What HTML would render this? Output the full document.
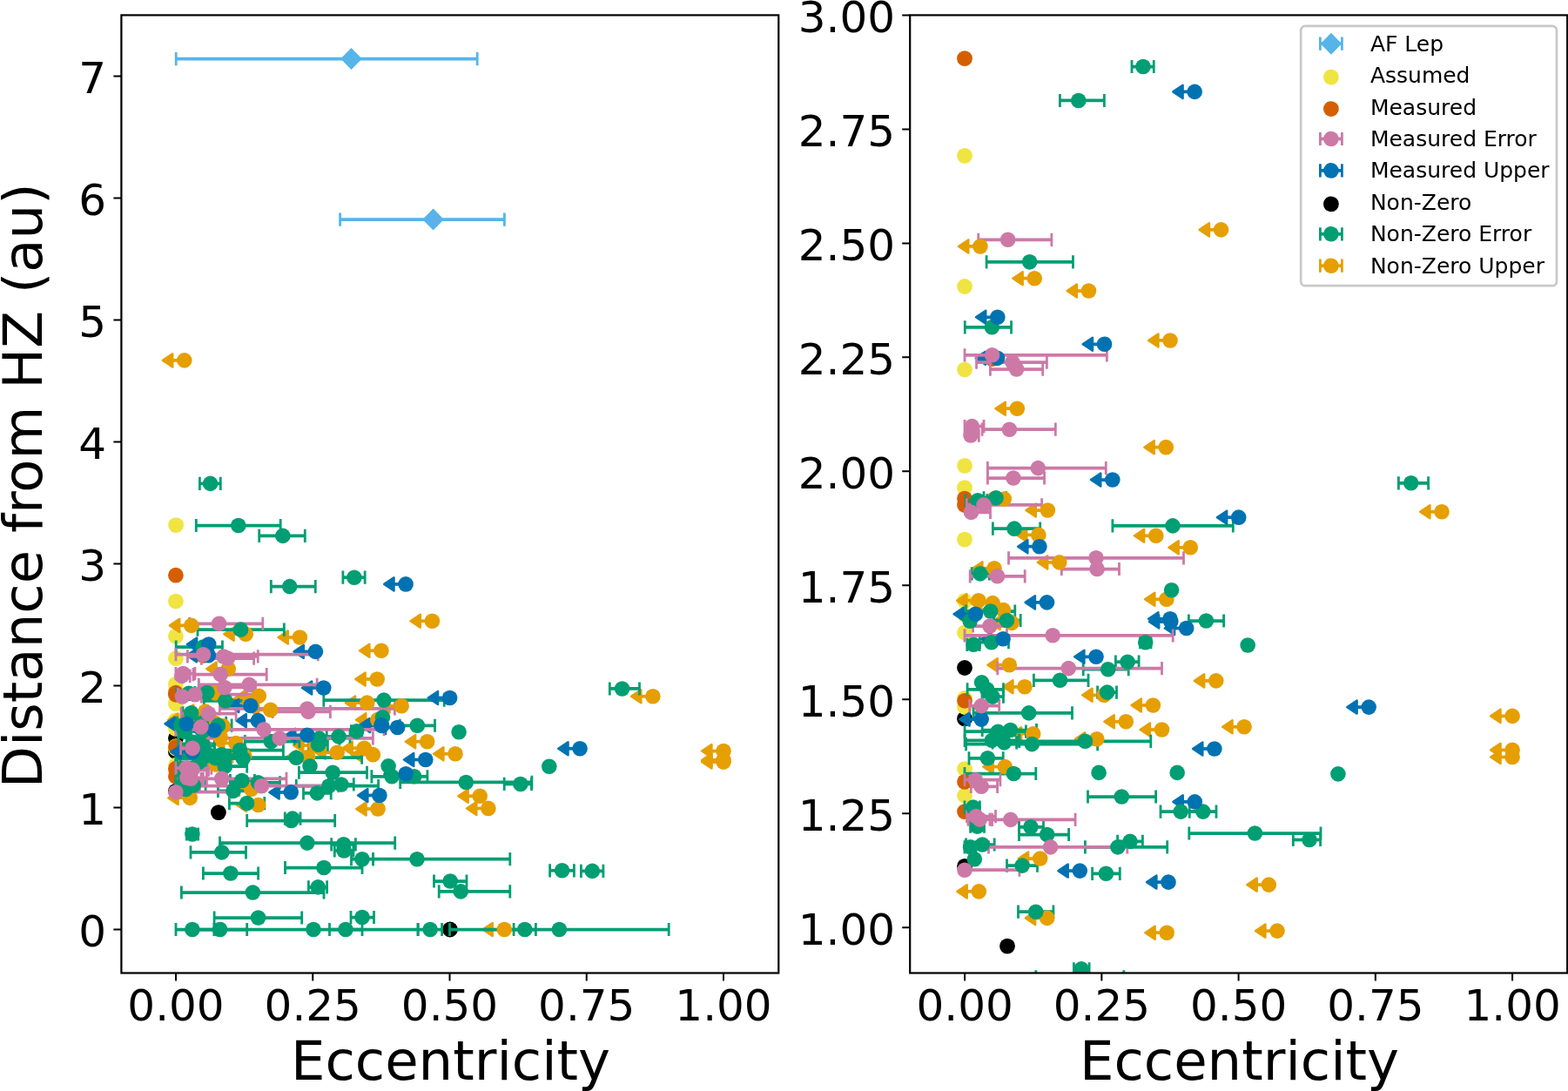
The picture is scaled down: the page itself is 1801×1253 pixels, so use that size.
<!DOCTYPE html>
<html lang="en"><head><meta charset="utf-8"><title>Distance from HZ vs Eccentricity</title>
<style>html,body{margin:0;padding:0;background:#fff}body{width:1801px;height:1253px;overflow:hidden}svg{display:block;font-family:"DejaVu Sans","Liberation Sans",sans-serif}</style>
</head><body>
<svg width="1801" height="1253" viewBox="0 0 1801 1253">
<rect width="1801" height="1253" fill="#fff"/>
<clipPath id="clip1"><rect x="139.4" y="17.4" width="754.9" height="1100.1"/></clipPath>
<g clip-path="url(#clip1)">
<g><circle cx="201.9" cy="847.69" r="8.9" fill="#000000"/><circle cx="201.9" cy="863.3" r="8.9" fill="#000000"/><circle cx="201.9" cy="908.59" r="8.9" fill="#000000"/><circle cx="250.9" cy="933.09" r="8.9" fill="#000000"/><circle cx="516.9" cy="1067.5" r="8.9" fill="#000000"/></g>
<g><circle cx="201.9" cy="690.54" r="8.9" fill="#F0E442"/><circle cx="201.9" cy="730.66" r="8.9" fill="#F0E442"/><circle cx="201.95" cy="756.19" r="8.9" fill="#F0E442"/><circle cx="201.95" cy="785.66" r="8.9" fill="#F0E442"/><circle cx="201.87" cy="792.4" r="8.9" fill="#F0E442"/><circle cx="201.87" cy="808.31" r="8.9" fill="#F0E442"/><circle cx="201.9" cy="827.15" r="8.9" fill="#F0E442"/><circle cx="201.9" cy="831.39" r="8.9" fill="#F0E442"/><circle cx="201.9" cy="836.87" r="8.9" fill="#F0E442"/><circle cx="201.9" cy="857.05" r="8.9" fill="#F0E442"/><circle cx="201.9" cy="859.72" r="8.9" fill="#F0E442"/><circle cx="201.9" cy="878.72" r="8.9" fill="#F0E442"/><circle cx="201.9" cy="886.92" r="8.9" fill="#F0E442"/><circle cx="202.1" cy="603.1" r="8.9" fill="#F0E442"/></g>
<g><circle cx="201.9" cy="660.69" r="8.9" fill="#D55E00"/><circle cx="233.56" cy="752.87" r="8.9" fill="#D55E00"/><circle cx="201.9" cy="795.75" r="8.9" fill="#D55E00"/><circle cx="201.9" cy="797.73" r="8.9" fill="#D55E00"/><circle cx="201.9" cy="857.79" r="8.9" fill="#D55E00"/><circle cx="201.9" cy="882.67" r="8.9" fill="#D55E00"/><circle cx="201.9" cy="891.81" r="8.9" fill="#D55E00"/></g>
<g><path d="M206.2 718.35H219.8" stroke="#E69F00" stroke-width="3.75" fill="none"/><path d="M194.95 718.35L206.2 710.85L206.2 725.85Z" fill="#E69F00" stroke="#E69F00" stroke-width="2.5" stroke-linejoin="round"/><path d="M268.56 728.19H282.16" stroke="#E69F00" stroke-width="3.75" fill="none"/><path d="M257.31 728.19L268.56 720.69L268.56 735.69Z" fill="#E69F00" stroke="#E69F00" stroke-width="2.5" stroke-linejoin="round"/><path d="M330.78 732.01H344.38" stroke="#E69F00" stroke-width="3.75" fill="none"/><path d="M319.53 732.01L330.78 724.51L330.78 739.51Z" fill="#E69F00" stroke="#E69F00" stroke-width="2.5" stroke-linejoin="round"/><path d="M482.8 713.26H496.4" stroke="#E69F00" stroke-width="3.75" fill="none"/><path d="M471.55 713.26L482.8 705.76L482.8 720.76Z" fill="#E69F00" stroke="#E69F00" stroke-width="2.5" stroke-linejoin="round"/><path d="M424.33 747.22H437.93" stroke="#E69F00" stroke-width="3.75" fill="none"/><path d="M413.08 747.22L424.33 739.72L424.33 754.72Z" fill="#E69F00" stroke="#E69F00" stroke-width="2.5" stroke-linejoin="round"/><path d="M419.57 780H433.17" stroke="#E69F00" stroke-width="3.75" fill="none"/><path d="M408.32 780L419.57 772.5L419.57 787.5Z" fill="#E69F00" stroke="#E69F00" stroke-width="2.5" stroke-linejoin="round"/><path d="M248.62 768.13H262.22" stroke="#E69F00" stroke-width="3.75" fill="none"/><path d="M237.37 768.13L248.62 760.63L248.62 775.63Z" fill="#E69F00" stroke="#E69F00" stroke-width="2.5" stroke-linejoin="round"/><path d="M283.66 799.34H297.26" stroke="#E69F00" stroke-width="3.75" fill="none"/><path d="M272.41 799.34L283.66 791.84L283.66 806.84Z" fill="#E69F00" stroke="#E69F00" stroke-width="2.5" stroke-linejoin="round"/><path d="M273.16 806.92H286.76" stroke="#E69F00" stroke-width="3.75" fill="none"/><path d="M261.91 806.92L273.16 799.42L273.16 814.42Z" fill="#E69F00" stroke="#E69F00" stroke-width="2.5" stroke-linejoin="round"/><path d="M233.6 795.86H247.2" stroke="#E69F00" stroke-width="3.75" fill="none"/><path d="M222.35 795.86L233.6 788.36L233.6 803.36Z" fill="#E69F00" stroke="#E69F00" stroke-width="2.5" stroke-linejoin="round"/><path d="M408.07 807.15H421.67" stroke="#E69F00" stroke-width="3.75" fill="none"/><path d="M396.82 807.15L408.07 799.65L408.07 814.65Z" fill="#E69F00" stroke="#E69F00" stroke-width="2.5" stroke-linejoin="round"/><path d="M447.59 810.77H461.19" stroke="#E69F00" stroke-width="3.75" fill="none"/><path d="M436.34 810.77L447.59 803.27L447.59 818.27Z" fill="#E69F00" stroke="#E69F00" stroke-width="2.5" stroke-linejoin="round"/><path d="M297.1 815.34H310.7" stroke="#E69F00" stroke-width="3.75" fill="none"/><path d="M285.85 815.34L297.1 807.84L297.1 822.84Z" fill="#E69F00" stroke="#E69F00" stroke-width="2.5" stroke-linejoin="round"/><path d="M222.3 817.15H235.9" stroke="#E69F00" stroke-width="3.75" fill="none"/><path d="M211.05 817.15L222.3 809.65L222.3 824.65Z" fill="#E69F00" stroke="#E69F00" stroke-width="2.5" stroke-linejoin="round"/><path d="M204.3 827.04H217.9" stroke="#E69F00" stroke-width="3.75" fill="none"/><path d="M193.05 827.04L204.3 819.54L204.3 834.54Z" fill="#E69F00" stroke="#E69F00" stroke-width="2.5" stroke-linejoin="round"/><path d="M220.5 827.81H234.1" stroke="#E69F00" stroke-width="3.75" fill="none"/><path d="M209.25 827.81L220.5 820.31L220.5 835.31Z" fill="#E69F00" stroke="#E69F00" stroke-width="2.5" stroke-linejoin="round"/><path d="M232.8 829.95H246.4" stroke="#E69F00" stroke-width="3.75" fill="none"/><path d="M221.55 829.95L232.8 822.45L232.8 837.45Z" fill="#E69F00" stroke="#E69F00" stroke-width="2.5" stroke-linejoin="round"/><path d="M242.5 833.91H256.1" stroke="#E69F00" stroke-width="3.75" fill="none"/><path d="M231.25 833.91L242.5 826.41L242.5 841.41Z" fill="#E69F00" stroke="#E69F00" stroke-width="2.5" stroke-linejoin="round"/><path d="M239.6 846.81H253.2" stroke="#E69F00" stroke-width="3.75" fill="none"/><path d="M228.35 846.81L239.6 839.31L239.6 854.31Z" fill="#E69F00" stroke="#E69F00" stroke-width="2.5" stroke-linejoin="round"/><path d="M420.2 826.67H433.8" stroke="#E69F00" stroke-width="3.75" fill="none"/><path d="M408.95 826.67L420.2 819.17L420.2 834.17Z" fill="#E69F00" stroke="#E69F00" stroke-width="2.5" stroke-linejoin="round"/><path d="M257.3 853.52H270.9" stroke="#E69F00" stroke-width="3.75" fill="none"/><path d="M246.05 853.52L257.3 846.02L257.3 861.02Z" fill="#E69F00" stroke="#E69F00" stroke-width="2.5" stroke-linejoin="round"/><path d="M348.4 856.06H362" stroke="#E69F00" stroke-width="3.75" fill="none"/><path d="M337.15 856.06L348.4 848.56L348.4 863.56Z" fill="#E69F00" stroke="#E69F00" stroke-width="2.5" stroke-linejoin="round"/><path d="M404.7 859.18H418.3" stroke="#E69F00" stroke-width="3.75" fill="none"/><path d="M393.45 859.18L404.7 851.68L404.7 866.68Z" fill="#E69F00" stroke="#E69F00" stroke-width="2.5" stroke-linejoin="round"/><path d="M373.6 864.21H387.2" stroke="#E69F00" stroke-width="3.75" fill="none"/><path d="M362.35 864.21L373.6 856.71L373.6 871.71Z" fill="#E69F00" stroke="#E69F00" stroke-width="2.5" stroke-linejoin="round"/><path d="M414.8 866.67H428.4" stroke="#E69F00" stroke-width="3.75" fill="none"/><path d="M403.55 866.67L414.8 859.17L414.8 874.17Z" fill="#E69F00" stroke="#E69F00" stroke-width="2.5" stroke-linejoin="round"/><path d="M477.1 851.68H490.7" stroke="#E69F00" stroke-width="3.75" fill="none"/><path d="M465.85 851.68L477.1 844.18L477.1 859.18Z" fill="#E69F00" stroke="#E69F00" stroke-width="2.5" stroke-linejoin="round"/><path d="M509.4 865.81H523" stroke="#E69F00" stroke-width="3.75" fill="none"/><path d="M498.15 865.81L509.4 858.31L509.4 873.31Z" fill="#E69F00" stroke="#E69F00" stroke-width="2.5" stroke-linejoin="round"/><path d="M267 867.92H280.6" stroke="#E69F00" stroke-width="3.75" fill="none"/><path d="M255.75 867.92L267 860.42L267 875.42Z" fill="#E69F00" stroke="#E69F00" stroke-width="2.5" stroke-linejoin="round"/><path d="M340.1 869.55H353.7" stroke="#E69F00" stroke-width="3.75" fill="none"/><path d="M328.85 869.55L340.1 862.05L340.1 877.05Z" fill="#E69F00" stroke="#E69F00" stroke-width="2.5" stroke-linejoin="round"/><path d="M234.6 878.05H248.2" stroke="#E69F00" stroke-width="3.75" fill="none"/><path d="M223.35 878.05L234.6 870.55L234.6 885.55Z" fill="#E69F00" stroke="#E69F00" stroke-width="2.5" stroke-linejoin="round"/><path d="M275 906.21H288.6" stroke="#E69F00" stroke-width="3.75" fill="none"/><path d="M263.75 906.21L275 898.71L275 913.71Z" fill="#E69F00" stroke="#E69F00" stroke-width="2.5" stroke-linejoin="round"/><path d="M204.6 916.34H218.2" stroke="#E69F00" stroke-width="3.75" fill="none"/><path d="M193.35 916.34L204.6 908.84L204.6 923.84Z" fill="#E69F00" stroke="#E69F00" stroke-width="2.5" stroke-linejoin="round"/><path d="M283 924.49H296.6" stroke="#E69F00" stroke-width="3.75" fill="none"/><path d="M271.75 924.49L283 916.99L283 931.99Z" fill="#E69F00" stroke="#E69F00" stroke-width="2.5" stroke-linejoin="round"/><path d="M420.5 928.98H434.1" stroke="#E69F00" stroke-width="3.75" fill="none"/><path d="M409.25 928.98L420.5 921.48L420.5 936.48Z" fill="#E69F00" stroke="#E69F00" stroke-width="2.5" stroke-linejoin="round"/><path d="M537.6 914.25H551.2" stroke="#E69F00" stroke-width="3.75" fill="none"/><path d="M526.35 914.25L537.6 906.75L537.6 921.75Z" fill="#E69F00" stroke="#E69F00" stroke-width="2.5" stroke-linejoin="round"/><path d="M547.3 928.42H560.9" stroke="#E69F00" stroke-width="3.75" fill="none"/><path d="M536.05 928.42L547.3 920.92L547.3 935.92Z" fill="#E69F00" stroke="#E69F00" stroke-width="2.5" stroke-linejoin="round"/><path d="M736.3 799.81H749.9" stroke="#E69F00" stroke-width="3.75" fill="none"/><path d="M725.05 799.81L736.3 792.31L736.3 807.31Z" fill="#E69F00" stroke="#E69F00" stroke-width="2.5" stroke-linejoin="round"/><path d="M817.4 862.5H831" stroke="#E69F00" stroke-width="3.75" fill="none"/><path d="M806.15 862.5L817.4 855L817.4 870Z" fill="#E69F00" stroke="#E69F00" stroke-width="2.5" stroke-linejoin="round"/><path d="M817.4 872.92H831" stroke="#E69F00" stroke-width="3.75" fill="none"/><path d="M806.15 872.92L817.4 865.42L817.4 880.42Z" fill="#E69F00" stroke="#E69F00" stroke-width="2.5" stroke-linejoin="round"/><path d="M817.4 875.08H831" stroke="#E69F00" stroke-width="3.75" fill="none"/><path d="M806.15 875.08L817.4 867.58L817.4 882.58Z" fill="#E69F00" stroke="#E69F00" stroke-width="2.5" stroke-linejoin="round"/><path d="M198.2 413.9H211.8" stroke="#E69F00" stroke-width="3.75" fill="none"/><path d="M186.95 413.9L198.2 406.4L198.2 421.4Z" fill="#E69F00" stroke="#E69F00" stroke-width="2.5" stroke-linejoin="round"/><path d="M565.7 1067.5H579.3" stroke="#E69F00" stroke-width="3.75" fill="none"/><path d="M554.45 1067.5L565.7 1060L565.7 1075Z" fill="#E69F00" stroke="#E69F00" stroke-width="2.5" stroke-linejoin="round"/></g>
<g><path d="M311.32 673.61H362.28" stroke="#009E73" stroke-width="3.75" fill="none"/><path d="M311.32 666.01V681.21M362.28 666.01V681.21" stroke="#009E73" stroke-width="2.8" fill="none"/><path d="M393.9 663.2H419.16" stroke="#009E73" stroke-width="3.75" fill="none"/><path d="M393.9 655.6V670.8M419.16 655.6V670.8" stroke="#009E73" stroke-width="2.8" fill="none"/><path d="M227.01 723.13H326.34" stroke="#009E73" stroke-width="3.75" fill="none"/><path d="M227.01 715.53V730.73M326.34 715.53V730.73" stroke="#009E73" stroke-width="2.8" fill="none"/><path d="M202.18 743.17H255.45" stroke="#009E73" stroke-width="3.75" fill="none"/><path d="M202.18 735.57V750.77M255.45 735.57V750.77" stroke="#009E73" stroke-width="2.8" fill="none"/><path d="M234.25 804.98H288.6" stroke="#009E73" stroke-width="3.75" fill="none"/><path d="M234.25 797.38V812.58M288.6 797.38V812.58" stroke="#009E73" stroke-width="2.8" fill="none"/><path d="M203 796.34H227.7" stroke="#009E73" stroke-width="3.75" fill="none"/><path d="M203 788.74V803.94M227.7 788.74V803.94" stroke="#009E73" stroke-width="2.8" fill="none"/><path d="M223.9 795.56H249.6" stroke="#009E73" stroke-width="3.75" fill="none"/><path d="M223.9 787.96V803.16M249.6 787.96V803.16" stroke="#009E73" stroke-width="2.8" fill="none"/><path d="M371.8 804.11H510.2" stroke="#009E73" stroke-width="3.75" fill="none"/><path d="M371.8 796.51V811.71M510.2 796.51V811.71" stroke="#009E73" stroke-width="2.8" fill="none"/><path d="M210.1 818.81H230.3" stroke="#009E73" stroke-width="3.75" fill="none"/><path d="M210.1 811.21V826.41M230.3 811.21V826.41" stroke="#009E73" stroke-width="2.8" fill="none"/><path d="M203.4 830.33H259.7" stroke="#009E73" stroke-width="3.75" fill="none"/><path d="M203.4 822.73V837.93M259.7 822.73V837.93" stroke="#009E73" stroke-width="2.8" fill="none"/><path d="M235.4 833.13H266.1" stroke="#009E73" stroke-width="3.75" fill="none"/><path d="M235.4 825.53V840.73M266.1 825.53V840.73" stroke="#009E73" stroke-width="2.8" fill="none"/><path d="M203.9 833.32H213.9" stroke="#009E73" stroke-width="3.75" fill="none"/><path d="M203.9 825.72V840.92M213.9 825.72V840.92" stroke="#009E73" stroke-width="2.8" fill="none"/><path d="M436.4 823.83H442.6" stroke="#009E73" stroke-width="3.75" fill="none"/><path d="M436.4 816.23V831.43M442.6 816.23V831.43" stroke="#009E73" stroke-width="2.8" fill="none"/><path d="M403.4 839.86H415.9" stroke="#009E73" stroke-width="3.75" fill="none"/><path d="M403.4 832.26V847.46M415.9 832.26V847.46" stroke="#009E73" stroke-width="2.8" fill="none"/><path d="M375.3 845.88H402" stroke="#009E73" stroke-width="3.75" fill="none"/><path d="M375.3 838.28V853.48M402 838.28V853.48" stroke="#009E73" stroke-width="2.8" fill="none"/><path d="M338.1 848.15H390.1" stroke="#009E73" stroke-width="3.75" fill="none"/><path d="M338.1 840.55V855.75M390.1 840.55V855.75" stroke="#009E73" stroke-width="2.8" fill="none"/><path d="M459.3 833.27H499.5" stroke="#009E73" stroke-width="3.75" fill="none"/><path d="M459.3 825.67V840.87M499.5 825.67V840.87" stroke="#009E73" stroke-width="2.8" fill="none"/><path d="M523.9 840.75H529.9" stroke="#009E73" stroke-width="3.75" fill="none"/><path d="M523.9 833.15V848.35M529.9 833.15V848.35" stroke="#009E73" stroke-width="2.8" fill="none"/><path d="M219.2 839.86H252.4" stroke="#009E73" stroke-width="3.75" fill="none"/><path d="M219.2 832.26V847.46M252.4 832.26V847.46" stroke="#009E73" stroke-width="2.8" fill="none"/><path d="M204.7 840.56H219" stroke="#009E73" stroke-width="3.75" fill="none"/><path d="M204.7 832.96V848.16M219 832.96V848.16" stroke="#009E73" stroke-width="2.8" fill="none"/><path d="M218.4 852.21H224.4" stroke="#009E73" stroke-width="3.75" fill="none"/><path d="M218.4 844.61V859.81M224.4 844.61V859.81" stroke="#009E73" stroke-width="2.8" fill="none"/><path d="M205 854.32H246.4" stroke="#009E73" stroke-width="3.75" fill="none"/><path d="M205 846.72V861.92M246.4 846.72V861.92" stroke="#009E73" stroke-width="2.8" fill="none"/><path d="M221.9 856.54H246.4" stroke="#009E73" stroke-width="3.75" fill="none"/><path d="M221.9 848.94V864.14M246.4 848.94V864.14" stroke="#009E73" stroke-width="2.8" fill="none"/><path d="M281.3 851.51H343.9" stroke="#009E73" stroke-width="3.75" fill="none"/><path d="M281.3 843.91V859.11M343.9 843.91V859.11" stroke="#009E73" stroke-width="2.8" fill="none"/><path d="M212 861.56H325.4" stroke="#009E73" stroke-width="3.75" fill="none"/><path d="M212 853.96V869.16M325.4 853.96V869.16" stroke="#009E73" stroke-width="2.8" fill="none"/><path d="M354.5 855.2H376.4" stroke="#009E73" stroke-width="3.75" fill="none"/><path d="M354.5 847.6V862.8M376.4 847.6V862.8" stroke="#009E73" stroke-width="2.8" fill="none"/><path d="M202 867.25H272.3" stroke="#009E73" stroke-width="3.75" fill="none"/><path d="M202 859.65V874.85M272.3 859.65V874.85" stroke="#009E73" stroke-width="2.8" fill="none"/><path d="M222.1 866.8H284.4" stroke="#009E73" stroke-width="3.75" fill="none"/><path d="M222.1 859.2V874.4M284.4 859.2V874.4" stroke="#009E73" stroke-width="2.8" fill="none"/><path d="M202 869.95H264.4" stroke="#009E73" stroke-width="3.75" fill="none"/><path d="M202 862.35V877.55M264.4 862.35V877.55" stroke="#009E73" stroke-width="2.8" fill="none"/><path d="M234 870.65H261.5" stroke="#009E73" stroke-width="3.75" fill="none"/><path d="M234 863.05V878.25M261.5 863.05V878.25" stroke="#009E73" stroke-width="2.8" fill="none"/><path d="M203.5 871.1H354.5" stroke="#009E73" stroke-width="3.75" fill="none"/><path d="M203.5 863.5V878.7M354.5 863.5V878.7" stroke="#009E73" stroke-width="2.8" fill="none"/><path d="M264.7 870.22H415.7" stroke="#009E73" stroke-width="3.75" fill="none"/><path d="M264.7 862.62V877.82M415.7 862.62V877.82" stroke="#009E73" stroke-width="2.8" fill="none"/><path d="M206.9 875.43H246.1" stroke="#009E73" stroke-width="3.75" fill="none"/><path d="M206.9 867.83V883.03M246.1 867.83V883.03" stroke="#009E73" stroke-width="2.8" fill="none"/><path d="M201.9 880.16H283.7" stroke="#009E73" stroke-width="3.75" fill="none"/><path d="M201.9 872.56V887.76M283.7 872.56V887.76" stroke="#009E73" stroke-width="2.8" fill="none"/><path d="M352.9 879.86H358.9" stroke="#009E73" stroke-width="3.75" fill="none"/><path d="M352.9 872.26V887.46M358.9 872.26V887.46" stroke="#009E73" stroke-width="2.8" fill="none"/><path d="M343.4 887.24H421.5" stroke="#009E73" stroke-width="3.75" fill="none"/><path d="M343.4 879.64V894.84M421.5 879.64V894.84" stroke="#009E73" stroke-width="2.8" fill="none"/><path d="M442.9 879.86H448.9" stroke="#009E73" stroke-width="3.75" fill="none"/><path d="M442.9 872.26V887.46M448.9 872.26V887.46" stroke="#009E73" stroke-width="2.8" fill="none"/><path d="M201.9 890.47H219.3" stroke="#009E73" stroke-width="3.75" fill="none"/><path d="M201.9 882.87V898.07M219.3 882.87V898.07" stroke="#009E73" stroke-width="2.8" fill="none"/><path d="M208.5 896.35H224.4" stroke="#009E73" stroke-width="3.75" fill="none"/><path d="M208.5 888.75V903.95M224.4 888.75V903.95" stroke="#009E73" stroke-width="2.8" fill="none"/><path d="M264.4 896.54H292.4" stroke="#009E73" stroke-width="3.75" fill="none"/><path d="M264.4 888.94V904.14M292.4 888.94V904.14" stroke="#009E73" stroke-width="2.8" fill="none"/><path d="M264.4 898.86H321.5" stroke="#009E73" stroke-width="3.75" fill="none"/><path d="M264.4 891.26V906.46M321.5 891.26V906.46" stroke="#009E73" stroke-width="2.8" fill="none"/><path d="M203.4 901.94H236.1" stroke="#009E73" stroke-width="3.75" fill="none"/><path d="M203.4 894.34V909.54M236.1 894.34V909.54" stroke="#009E73" stroke-width="2.8" fill="none"/><path d="M201.9 902.71H214.9" stroke="#009E73" stroke-width="3.75" fill="none"/><path d="M201.9 895.11V910.31M214.9 895.11V910.31" stroke="#009E73" stroke-width="2.8" fill="none"/><path d="M209.9 906.42H216.4" stroke="#009E73" stroke-width="3.75" fill="none"/><path d="M209.9 898.82V914.02M216.4 898.82V914.02" stroke="#009E73" stroke-width="2.8" fill="none"/><path d="M340.3 902.71H434.6" stroke="#009E73" stroke-width="3.75" fill="none"/><path d="M340.3 895.11V910.31M434.6 895.11V910.31" stroke="#009E73" stroke-width="2.8" fill="none"/><path d="M377.5 900.97H406.3" stroke="#009E73" stroke-width="3.75" fill="none"/><path d="M377.5 893.37V908.57M406.3 893.37V908.57" stroke="#009E73" stroke-width="2.8" fill="none"/><path d="M426.9 891.81H473.3" stroke="#009E73" stroke-width="3.75" fill="none"/><path d="M426.9 884.21V899.41M473.3 884.21V899.41" stroke="#009E73" stroke-width="2.8" fill="none"/><path d="M460.2 891.81H490.9" stroke="#009E73" stroke-width="3.75" fill="none"/><path d="M460.2 884.21V899.41M490.9 884.21V899.41" stroke="#009E73" stroke-width="2.8" fill="none"/><path d="M459.7 898.46H610.9" stroke="#009E73" stroke-width="3.75" fill="none"/><path d="M459.7 890.86V906.06M610.9 890.86V906.06" stroke="#009E73" stroke-width="2.8" fill="none"/><path d="M250.4 908.38H285.4" stroke="#009E73" stroke-width="3.75" fill="none"/><path d="M250.4 900.78V915.98M285.4 900.78V915.98" stroke="#009E73" stroke-width="2.8" fill="none"/><path d="M263.4 922.56H303.8" stroke="#009E73" stroke-width="3.75" fill="none"/><path d="M263.4 914.96V930.16M303.8 914.96V930.16" stroke="#009E73" stroke-width="2.8" fill="none"/><path d="M348.5 910.83H380.2" stroke="#009E73" stroke-width="3.75" fill="none"/><path d="M348.5 903.23V918.43M380.2 903.23V918.43" stroke="#009E73" stroke-width="2.8" fill="none"/><path d="M327.3 940.12H345" stroke="#009E73" stroke-width="3.75" fill="none"/><path d="M327.3 932.52V947.72M345 932.52V947.72" stroke="#009E73" stroke-width="2.8" fill="none"/><path d="M700.3 790.99H734.5" stroke="#009E73" stroke-width="3.75" fill="none"/><path d="M700.3 783.39V798.59M734.5 783.39V798.59" stroke="#009E73" stroke-width="2.8" fill="none"/><path d="M627.9 880.27H633.9" stroke="#009E73" stroke-width="3.75" fill="none"/><path d="M627.9 872.67V887.87M633.9 872.67V887.87" stroke="#009E73" stroke-width="2.8" fill="none"/><path d="M579.2 900.47H610.5" stroke="#009E73" stroke-width="3.75" fill="none"/><path d="M579.2 892.87V908.07M610.5 892.87V908.07" stroke="#009E73" stroke-width="2.8" fill="none"/><path d="M229.4 555.4H253.3" stroke="#009E73" stroke-width="3.75" fill="none"/><path d="M229.4 547.8V563M253.3 547.8V563" stroke="#009E73" stroke-width="2.8" fill="none"/><path d="M225.3 603.5H322.2" stroke="#009E73" stroke-width="3.75" fill="none"/><path d="M225.3 595.9V611.1M322.2 595.9V611.1" stroke="#009E73" stroke-width="2.8" fill="none"/><path d="M297.7 615.4H350.3" stroke="#009E73" stroke-width="3.75" fill="none"/><path d="M297.7 607.8V623M350.3 607.8V623" stroke="#009E73" stroke-width="2.8" fill="none"/><path d="M283.7 942.5H384.7" stroke="#009E73" stroke-width="3.75" fill="none"/><path d="M283.7 934.9V950.1M384.7 934.9V950.1" stroke="#009E73" stroke-width="2.8" fill="none"/><path d="M214.4 958H227.6" stroke="#009E73" stroke-width="3.75" fill="none"/><path d="M214.4 950.4V965.6M227.6 950.4V965.6" stroke="#009E73" stroke-width="2.8" fill="none"/><path d="M252.5 968.1H453.7" stroke="#009E73" stroke-width="3.75" fill="none"/><path d="M252.5 960.5V975.7M453.7 960.5V975.7" stroke="#009E73" stroke-width="2.8" fill="none"/><path d="M380.7 969.8H408.4" stroke="#009E73" stroke-width="3.75" fill="none"/><path d="M380.7 962.2V977.4M408.4 962.2V977.4" stroke="#009E73" stroke-width="2.8" fill="none"/><path d="M384.3 977H405.9" stroke="#009E73" stroke-width="3.75" fill="none"/><path d="M384.3 969.4V984.6M405.9 969.4V984.6" stroke="#009E73" stroke-width="2.8" fill="none"/><path d="M219 978.9H282.5" stroke="#009E73" stroke-width="3.75" fill="none"/><path d="M219 971.3V986.5M282.5 971.3V986.5" stroke="#009E73" stroke-width="2.8" fill="none"/><path d="M403.5 986.7H428.6" stroke="#009E73" stroke-width="3.75" fill="none"/><path d="M403.5 979.1V994.3M428.6 979.1V994.3" stroke="#009E73" stroke-width="2.8" fill="none"/><path d="M428.6 986.7H585.8" stroke="#009E73" stroke-width="3.75" fill="none"/><path d="M428.6 979.1V994.3M585.8 979.1V994.3" stroke="#009E73" stroke-width="2.8" fill="none"/><path d="M327.5 996.5H416" stroke="#009E73" stroke-width="3.75" fill="none"/><path d="M327.5 988.9V1004.1M416 988.9V1004.1" stroke="#009E73" stroke-width="2.8" fill="none"/><path d="M233.4 1003H296.6" stroke="#009E73" stroke-width="3.75" fill="none"/><path d="M233.4 995.4V1010.6M296.6 995.4V1010.6" stroke="#009E73" stroke-width="2.8" fill="none"/><path d="M354.4 1018.9H375.6" stroke="#009E73" stroke-width="3.75" fill="none"/><path d="M354.4 1011.3V1026.5M375.6 1011.3V1026.5" stroke="#009E73" stroke-width="2.8" fill="none"/><path d="M208.4 1025H372" stroke="#009E73" stroke-width="3.75" fill="none"/><path d="M208.4 1017.4V1032.6M372 1017.4V1032.6" stroke="#009E73" stroke-width="2.8" fill="none"/><path d="M246.1 1054H346.7" stroke="#009E73" stroke-width="3.75" fill="none"/><path d="M246.1 1046.4V1061.6M346.7 1046.4V1061.6" stroke="#009E73" stroke-width="2.8" fill="none"/><path d="M403 1053.5H429.5" stroke="#009E73" stroke-width="3.75" fill="none"/><path d="M403 1045.9V1061.1M429.5 1045.9V1061.1" stroke="#009E73" stroke-width="2.8" fill="none"/><path d="M202 1067.5H246.1" stroke="#009E73" stroke-width="3.75" fill="none"/><path d="M202 1059.9V1075.1M246.1 1059.9V1075.1" stroke="#009E73" stroke-width="2.8" fill="none"/><path d="M221.5 1067.5H283.7" stroke="#009E73" stroke-width="3.75" fill="none"/><path d="M221.5 1059.9V1075.1M283.7 1059.9V1075.1" stroke="#009E73" stroke-width="2.8" fill="none"/><path d="M246.1 1067.5H480.1" stroke="#009E73" stroke-width="3.75" fill="none"/><path d="M246.1 1059.9V1075.1M480.1 1059.9V1075.1" stroke="#009E73" stroke-width="2.8" fill="none"/><path d="M378.5 1067.5H416" stroke="#009E73" stroke-width="3.75" fill="none"/><path d="M378.5 1059.9V1075.1M416 1059.9V1075.1" stroke="#009E73" stroke-width="2.8" fill="none"/><path d="M480.1 1067.5H507.6" stroke="#009E73" stroke-width="3.75" fill="none"/><path d="M480.1 1059.9V1075.1M507.6 1059.9V1075.1" stroke="#009E73" stroke-width="2.8" fill="none"/><path d="M516.5 1067.5H768.2" stroke="#009E73" stroke-width="3.75" fill="none"/><path d="M516.5 1059.9V1075.1M768.2 1059.9V1075.1" stroke="#009E73" stroke-width="2.8" fill="none"/><path d="M590.1 1067.5H615.4" stroke="#009E73" stroke-width="3.75" fill="none"/><path d="M590.1 1059.9V1075.1M615.4 1059.9V1075.1" stroke="#009E73" stroke-width="2.8" fill="none"/><path d="M631.6 999.8H659.4" stroke="#009E73" stroke-width="3.75" fill="none"/><path d="M631.6 992.2V1007.4M659.4 992.2V1007.4" stroke="#009E73" stroke-width="2.8" fill="none"/><path d="M667.4 1000.4H692.9" stroke="#009E73" stroke-width="3.75" fill="none"/><path d="M667.4 992.8V1008M692.9 992.8V1008" stroke="#009E73" stroke-width="2.8" fill="none"/><path d="M498.5 1012H536" stroke="#009E73" stroke-width="3.75" fill="none"/><path d="M498.5 1004.4V1019.6M536 1004.4V1019.6" stroke="#009E73" stroke-width="2.8" fill="none"/><path d="M504.2 1023.9H585.8" stroke="#009E73" stroke-width="3.75" fill="none"/><path d="M504.2 1016.3V1031.5M585.8 1016.3V1031.5" stroke="#009E73" stroke-width="2.8" fill="none"/></g>
<g><path d="M452.48 670.91H466.08" stroke="#0072B2" stroke-width="3.75" fill="none"/><path d="M441.23 670.91L452.48 663.41L452.48 678.41Z" fill="#0072B2" stroke="#0072B2" stroke-width="2.5" stroke-linejoin="round"/><path d="M226.12 740.08H239.72" stroke="#0072B2" stroke-width="3.75" fill="none"/><path d="M214.87 740.08L226.12 732.58L226.12 747.58Z" fill="#0072B2" stroke="#0072B2" stroke-width="2.5" stroke-linejoin="round"/><path d="M348.83 748.37H362.43" stroke="#0072B2" stroke-width="3.75" fill="none"/><path d="M337.58 748.37L348.83 740.87L348.83 755.87Z" fill="#0072B2" stroke="#0072B2" stroke-width="2.5" stroke-linejoin="round"/><path d="M225.81 752.66H239.41" stroke="#0072B2" stroke-width="3.75" fill="none"/><path d="M214.56 752.66L225.81 745.16L225.81 760.16Z" fill="#0072B2" stroke="#0072B2" stroke-width="2.5" stroke-linejoin="round"/><path d="M358.15 790H371.75" stroke="#0072B2" stroke-width="3.75" fill="none"/><path d="M346.9 790L358.15 782.5L358.15 797.5Z" fill="#0072B2" stroke="#0072B2" stroke-width="2.5" stroke-linejoin="round"/><path d="M274.24 810.48H287.84" stroke="#0072B2" stroke-width="3.75" fill="none"/><path d="M262.99 810.48L274.24 802.98L274.24 817.98Z" fill="#0072B2" stroke="#0072B2" stroke-width="2.5" stroke-linejoin="round"/><path d="M503.02 801.51H516.62" stroke="#0072B2" stroke-width="3.75" fill="none"/><path d="M491.77 801.51L503.02 794.01L503.02 809.01Z" fill="#0072B2" stroke="#0072B2" stroke-width="2.5" stroke-linejoin="round"/><path d="M282.8 827.63H296.4" stroke="#0072B2" stroke-width="3.75" fill="none"/><path d="M271.55 827.63L282.8 820.13L282.8 835.13Z" fill="#0072B2" stroke="#0072B2" stroke-width="2.5" stroke-linejoin="round"/><path d="M200.7 831.21H214.3" stroke="#0072B2" stroke-width="3.75" fill="none"/><path d="M189.45 831.21L200.7 823.71L200.7 838.71Z" fill="#0072B2" stroke="#0072B2" stroke-width="2.5" stroke-linejoin="round"/><path d="M232.4 838.82H246" stroke="#0072B2" stroke-width="3.75" fill="none"/><path d="M221.15 838.82L232.4 831.32L232.4 846.32Z" fill="#0072B2" stroke="#0072B2" stroke-width="2.5" stroke-linejoin="round"/><path d="M424.3 832.68H437.9" stroke="#0072B2" stroke-width="3.75" fill="none"/><path d="M413.05 832.68L424.3 825.18L424.3 840.18Z" fill="#0072B2" stroke="#0072B2" stroke-width="2.5" stroke-linejoin="round"/><path d="M443 835.54H456.6" stroke="#0072B2" stroke-width="3.75" fill="none"/><path d="M431.75 835.54L443 828.04L443 843.04Z" fill="#0072B2" stroke="#0072B2" stroke-width="2.5" stroke-linejoin="round"/><path d="M339.3 844.3H352.9" stroke="#0072B2" stroke-width="3.75" fill="none"/><path d="M328.05 844.3L339.3 836.8L339.3 851.8Z" fill="#0072B2" stroke="#0072B2" stroke-width="2.5" stroke-linejoin="round"/><path d="M207.5 863.49H221.1" stroke="#0072B2" stroke-width="3.75" fill="none"/><path d="M196.25 863.49L207.5 855.99L207.5 870.99Z" fill="#0072B2" stroke="#0072B2" stroke-width="2.5" stroke-linejoin="round"/><path d="M475.2 872.54H488.8" stroke="#0072B2" stroke-width="3.75" fill="none"/><path d="M463.95 872.54L475.2 865.04L475.2 880.04Z" fill="#0072B2" stroke="#0072B2" stroke-width="2.5" stroke-linejoin="round"/><path d="M452.6 888.82H466.2" stroke="#0072B2" stroke-width="3.75" fill="none"/><path d="M441.35 888.82L452.6 881.32L452.6 896.32Z" fill="#0072B2" stroke="#0072B2" stroke-width="2.5" stroke-linejoin="round"/><path d="M320.6 909.98H334.2" stroke="#0072B2" stroke-width="3.75" fill="none"/><path d="M309.35 909.98L320.6 902.48L320.6 917.48Z" fill="#0072B2" stroke="#0072B2" stroke-width="2.5" stroke-linejoin="round"/><path d="M422.3 913.45H435.9" stroke="#0072B2" stroke-width="3.75" fill="none"/><path d="M411.05 913.45L422.3 905.95L422.3 920.95Z" fill="#0072B2" stroke="#0072B2" stroke-width="2.5" stroke-linejoin="round"/><path d="M652.5 859.74H666.1" stroke="#0072B2" stroke-width="3.75" fill="none"/><path d="M641.25 859.74L652.5 852.24L652.5 867.24Z" fill="#0072B2" stroke="#0072B2" stroke-width="2.5" stroke-linejoin="round"/><path d="M425.1 833.53H438.7" stroke="#0072B2" stroke-width="3.75" fill="none"/><path d="M413.85 833.53L425.1 826.03L425.1 841.03Z" fill="#0072B2" stroke="#0072B2" stroke-width="2.5" stroke-linejoin="round"/></g>
<g><path d="M217.63 716.31H301.8" stroke="#CC79A7" stroke-width="3.75" fill="none"/><path d="M217.63 708.71V723.91M301.8 708.71V723.91" stroke="#CC79A7" stroke-width="2.8" fill="none"/><path d="M201.95 751.71H365.29" stroke="#CC79A7" stroke-width="3.75" fill="none"/><path d="M201.95 744.11V759.31M365.29 744.11V759.31" stroke="#CC79A7" stroke-width="2.8" fill="none"/><path d="M215.44 753.93H296.29" stroke="#CC79A7" stroke-width="3.75" fill="none"/><path d="M215.44 746.33V761.53M296.29 746.33V761.53" stroke="#CC79A7" stroke-width="2.8" fill="none"/><path d="M231.32 756.05H291.6" stroke="#CC79A7" stroke-width="3.75" fill="none"/><path d="M231.32 748.45V763.65M291.6 748.45V763.65" stroke="#CC79A7" stroke-width="2.8" fill="none"/><path d="M201.95 773.59H223.96" stroke="#CC79A7" stroke-width="3.75" fill="none"/><path d="M201.95 765.99V781.19M223.96 765.99V781.19" stroke="#CC79A7" stroke-width="2.8" fill="none"/><path d="M207.72 776.37H218.19" stroke="#CC79A7" stroke-width="3.75" fill="none"/><path d="M207.72 768.77V783.97M218.19 768.77V783.97" stroke="#CC79A7" stroke-width="2.8" fill="none"/><path d="M222.01 774.54H306.25" stroke="#CC79A7" stroke-width="3.75" fill="none"/><path d="M222.01 766.94V782.14M306.25 766.94V782.14" stroke="#CC79A7" stroke-width="2.8" fill="none"/><path d="M228.29 786.41H364.17" stroke="#CC79A7" stroke-width="3.75" fill="none"/><path d="M228.29 778.81V794.01M364.17 778.81V794.01" stroke="#CC79A7" stroke-width="2.8" fill="none"/><path d="M228.29 789.45H293.47" stroke="#CC79A7" stroke-width="3.75" fill="none"/><path d="M228.29 781.85V797.05M293.47 781.85V797.05" stroke="#CC79A7" stroke-width="2.8" fill="none"/><path d="M204.3 797.7H290.5" stroke="#CC79A7" stroke-width="3.75" fill="none"/><path d="M204.3 790.1V805.3M290.5 790.1V805.3" stroke="#CC79A7" stroke-width="2.8" fill="none"/><path d="M206.9 799.97H231.4" stroke="#CC79A7" stroke-width="3.75" fill="none"/><path d="M206.9 792.37V807.57M231.4 792.37V807.57" stroke="#CC79A7" stroke-width="2.8" fill="none"/><path d="M252.4 813.97H453.4" stroke="#CC79A7" stroke-width="3.75" fill="none"/><path d="M252.4 806.37V821.57M453.4 806.37V821.57" stroke="#CC79A7" stroke-width="2.8" fill="none"/><path d="M313.2 817.37H379.4" stroke="#CC79A7" stroke-width="3.75" fill="none"/><path d="M313.2 809.77V824.97M379.4 809.77V824.97" stroke="#CC79A7" stroke-width="2.8" fill="none"/><path d="M208.1 819.58H271.1" stroke="#CC79A7" stroke-width="3.75" fill="none"/><path d="M208.1 811.98V827.18M271.1 811.98V827.18" stroke="#CC79A7" stroke-width="2.8" fill="none"/><path d="M211.5 834.87H250.4" stroke="#CC79A7" stroke-width="3.75" fill="none"/><path d="M211.5 827.27V842.47M250.4 827.27V842.47" stroke="#CC79A7" stroke-width="2.8" fill="none"/><path d="M201.9 837.75H441.1" stroke="#CC79A7" stroke-width="3.75" fill="none"/><path d="M201.9 830.15V845.35M441.1 830.15V845.35" stroke="#CC79A7" stroke-width="2.8" fill="none"/><path d="M239.7 847.85H428.4" stroke="#CC79A7" stroke-width="3.75" fill="none"/><path d="M239.7 840.25V855.45M428.4 840.25V855.45" stroke="#CC79A7" stroke-width="2.8" fill="none"/><path d="M207.6 859.34H241.6" stroke="#CC79A7" stroke-width="3.75" fill="none"/><path d="M207.6 851.74V866.94M241.6 851.74V866.94" stroke="#CC79A7" stroke-width="2.8" fill="none"/><path d="M201.9 882.08H242.8" stroke="#CC79A7" stroke-width="3.75" fill="none"/><path d="M201.9 874.48V889.68M242.8 874.48V889.68" stroke="#CC79A7" stroke-width="2.8" fill="none"/><path d="M209.2 884.11H239.5" stroke="#CC79A7" stroke-width="3.75" fill="none"/><path d="M209.2 876.51V891.71M239.5 876.51V891.71" stroke="#CC79A7" stroke-width="2.8" fill="none"/><path d="M204.5 893.28H237.4" stroke="#CC79A7" stroke-width="3.75" fill="none"/><path d="M204.5 885.68V900.88M237.4 885.68V900.88" stroke="#CC79A7" stroke-width="2.8" fill="none"/><path d="M205.9 894.21H230.9" stroke="#CC79A7" stroke-width="3.75" fill="none"/><path d="M205.9 886.61V901.81M230.9 886.61V901.81" stroke="#CC79A7" stroke-width="2.8" fill="none"/><path d="M233.4 894.29H329" stroke="#CC79A7" stroke-width="3.75" fill="none"/><path d="M233.4 886.69V901.89M329 886.69V901.89" stroke="#CC79A7" stroke-width="2.8" fill="none"/><path d="M229.4 902.71H388.7" stroke="#CC79A7" stroke-width="3.75" fill="none"/><path d="M229.4 895.11V910.31M388.7 895.11V910.31" stroke="#CC79A7" stroke-width="2.8" fill="none"/><path d="M201.9 909.74H264.8" stroke="#CC79A7" stroke-width="3.75" fill="none"/><path d="M201.9 902.14V917.34M264.8 902.14V917.34" stroke="#CC79A7" stroke-width="2.8" fill="none"/></g>
<g><path d="M202.2 67.6H548.2" stroke="#56B4E9" stroke-width="3.75" fill="none"/><path d="M202.2 60V75.2M548.2 60V75.2" stroke="#56B4E9" stroke-width="2.8" fill="none"/><path d="M390.6 252.1H579.4" stroke="#56B4E9" stroke-width="3.75" fill="none"/><path d="M390.6 244.5V259.7M579.4 244.5V259.7" stroke="#56B4E9" stroke-width="2.8" fill="none"/></g>
<g><circle cx="219.8" cy="718.35" r="8.8" fill="#E69F00"/><circle cx="282.16" cy="728.19" r="8.8" fill="#E69F00"/><circle cx="344.38" cy="732.01" r="8.8" fill="#E69F00"/><circle cx="496.4" cy="713.26" r="8.8" fill="#E69F00"/><circle cx="437.93" cy="747.22" r="8.8" fill="#E69F00"/><circle cx="433.17" cy="780" r="8.8" fill="#E69F00"/><circle cx="262.22" cy="768.13" r="8.8" fill="#E69F00"/><circle cx="297.26" cy="799.34" r="8.8" fill="#E69F00"/><circle cx="286.76" cy="806.92" r="8.8" fill="#E69F00"/><circle cx="247.2" cy="795.86" r="8.8" fill="#E69F00"/><circle cx="421.67" cy="807.15" r="8.8" fill="#E69F00"/><circle cx="461.19" cy="810.77" r="8.8" fill="#E69F00"/><circle cx="310.7" cy="815.34" r="8.8" fill="#E69F00"/><circle cx="235.9" cy="817.15" r="8.8" fill="#E69F00"/><circle cx="217.9" cy="827.04" r="8.8" fill="#E69F00"/><circle cx="234.1" cy="827.81" r="8.8" fill="#E69F00"/><circle cx="246.4" cy="829.95" r="8.8" fill="#E69F00"/><circle cx="256.1" cy="833.91" r="8.8" fill="#E69F00"/><circle cx="253.2" cy="846.81" r="8.8" fill="#E69F00"/><circle cx="433.8" cy="826.67" r="8.8" fill="#E69F00"/><circle cx="270.9" cy="853.52" r="8.8" fill="#E69F00"/><circle cx="362" cy="856.06" r="8.8" fill="#E69F00"/><circle cx="418.3" cy="859.18" r="8.8" fill="#E69F00"/><circle cx="387.2" cy="864.21" r="8.8" fill="#E69F00"/><circle cx="428.4" cy="866.67" r="8.8" fill="#E69F00"/><circle cx="490.7" cy="851.68" r="8.8" fill="#E69F00"/><circle cx="523" cy="865.81" r="8.8" fill="#E69F00"/><circle cx="280.6" cy="867.92" r="8.8" fill="#E69F00"/><circle cx="353.7" cy="869.55" r="8.8" fill="#E69F00"/><circle cx="248.2" cy="878.05" r="8.8" fill="#E69F00"/><circle cx="288.6" cy="906.21" r="8.8" fill="#E69F00"/><circle cx="218.2" cy="916.34" r="8.8" fill="#E69F00"/><circle cx="296.6" cy="924.49" r="8.8" fill="#E69F00"/><circle cx="434.1" cy="928.98" r="8.8" fill="#E69F00"/><circle cx="551.2" cy="914.25" r="8.8" fill="#E69F00"/><circle cx="560.9" cy="928.42" r="8.8" fill="#E69F00"/><circle cx="749.9" cy="799.81" r="8.8" fill="#E69F00"/><circle cx="831" cy="862.5" r="8.8" fill="#E69F00"/><circle cx="831" cy="872.92" r="8.8" fill="#E69F00"/><circle cx="831" cy="875.08" r="8.8" fill="#E69F00"/><circle cx="211.8" cy="413.9" r="8.8" fill="#E69F00"/><circle cx="579.3" cy="1067.5" r="8.8" fill="#E69F00"/></g>
<g><circle cx="332.69" cy="673.61" r="8.8" fill="#009E73"/><circle cx="406.89" cy="663.2" r="8.8" fill="#009E73"/><circle cx="276.53" cy="723.13" r="8.8" fill="#009E73"/><circle cx="233.22" cy="743.17" r="8.8" fill="#009E73"/><circle cx="258.93" cy="804.98" r="8.8" fill="#009E73"/><circle cx="217" cy="796.34" r="8.8" fill="#009E73"/><circle cx="237.9" cy="795.56" r="8.8" fill="#009E73"/><circle cx="440.9" cy="804.11" r="8.8" fill="#009E73"/><circle cx="219.7" cy="818.81" r="8.8" fill="#009E73"/><circle cx="231.6" cy="830.33" r="8.8" fill="#009E73"/><circle cx="250.4" cy="833.13" r="8.8" fill="#009E73"/><circle cx="208.1" cy="833.32" r="8.8" fill="#009E73"/><circle cx="439.5" cy="823.83" r="8.8" fill="#009E73"/><circle cx="409.6" cy="839.86" r="8.8" fill="#009E73"/><circle cx="389" cy="845.88" r="8.8" fill="#009E73"/><circle cx="366.6" cy="848.15" r="8.8" fill="#009E73"/><circle cx="479.3" cy="833.27" r="8.8" fill="#009E73"/><circle cx="527.1" cy="840.75" r="8.8" fill="#009E73"/><circle cx="232.7" cy="839.86" r="8.8" fill="#009E73"/><circle cx="212.1" cy="840.56" r="8.8" fill="#009E73"/><circle cx="221.5" cy="852.21" r="8.8" fill="#009E73"/><circle cx="227.6" cy="854.32" r="8.8" fill="#009E73"/><circle cx="233.8" cy="856.54" r="8.8" fill="#009E73"/><circle cx="311.4" cy="851.51" r="8.8" fill="#009E73"/><circle cx="275.6" cy="861.56" r="8.8" fill="#009E73"/><circle cx="365.6" cy="855.2" r="8.8" fill="#009E73"/><circle cx="240.2" cy="867.25" r="8.8" fill="#009E73"/><circle cx="254.5" cy="866.8" r="8.8" fill="#009E73"/><circle cx="233.3" cy="869.95" r="8.8" fill="#009E73"/><circle cx="247.3" cy="870.65" r="8.8" fill="#009E73"/><circle cx="279.2" cy="871.1" r="8.8" fill="#009E73"/><circle cx="340.3" cy="870.22" r="8.8" fill="#009E73"/><circle cx="228.3" cy="875.43" r="8.8" fill="#009E73"/><circle cx="258.3" cy="880.16" r="8.8" fill="#009E73"/><circle cx="356" cy="879.86" r="8.8" fill="#009E73"/><circle cx="382.2" cy="887.24" r="8.8" fill="#009E73"/><circle cx="446.1" cy="879.86" r="8.8" fill="#009E73"/><circle cx="211.7" cy="890.47" r="8.8" fill="#009E73"/><circle cx="216.4" cy="896.35" r="8.8" fill="#009E73"/><circle cx="277.8" cy="896.54" r="8.8" fill="#009E73"/><circle cx="296.6" cy="898.86" r="8.8" fill="#009E73"/><circle cx="222.2" cy="901.94" r="8.8" fill="#009E73"/><circle cx="208.5" cy="902.71" r="8.8" fill="#009E73"/><circle cx="213.2" cy="906.42" r="8.8" fill="#009E73"/><circle cx="377.8" cy="902.71" r="8.8" fill="#009E73"/><circle cx="391.9" cy="900.97" r="8.8" fill="#009E73"/><circle cx="450.1" cy="891.81" r="8.8" fill="#009E73"/><circle cx="475.7" cy="891.81" r="8.8" fill="#009E73"/><circle cx="535.3" cy="898.46" r="8.8" fill="#009E73"/><circle cx="268" cy="908.38" r="8.8" fill="#009E73"/><circle cx="283.6" cy="922.56" r="8.8" fill="#009E73"/><circle cx="364.3" cy="910.83" r="8.8" fill="#009E73"/><circle cx="336" cy="940.12" r="8.8" fill="#009E73"/><circle cx="714.6" cy="790.99" r="8.8" fill="#009E73"/><circle cx="630.8" cy="880.27" r="8.8" fill="#009E73"/><circle cx="597.9" cy="900.47" r="8.8" fill="#009E73"/><circle cx="241.6" cy="555.4" r="8.8" fill="#009E73"/><circle cx="273.8" cy="603.5" r="8.8" fill="#009E73"/><circle cx="324.8" cy="615.4" r="8.8" fill="#009E73"/><circle cx="334.5" cy="942.5" r="8.8" fill="#009E73"/><circle cx="220.9" cy="958" r="8.8" fill="#009E73"/><circle cx="352.9" cy="968.1" r="8.8" fill="#009E73"/><circle cx="394.7" cy="969.8" r="8.8" fill="#009E73"/><circle cx="395.1" cy="977" r="8.8" fill="#009E73"/><circle cx="254.8" cy="978.9" r="8.8" fill="#009E73"/><circle cx="416" cy="986.7" r="8.8" fill="#009E73"/><circle cx="479" cy="986.7" r="8.8" fill="#009E73"/><circle cx="372" cy="996.5" r="8.8" fill="#009E73"/><circle cx="264.9" cy="1003" r="8.8" fill="#009E73"/><circle cx="365.2" cy="1018.9" r="8.8" fill="#009E73"/><circle cx="290.4" cy="1025" r="8.8" fill="#009E73"/><circle cx="296.6" cy="1054" r="8.8" fill="#009E73"/><circle cx="416" cy="1053.5" r="8.8" fill="#009E73"/><circle cx="220.9" cy="1067.5" r="8.8" fill="#009E73"/><circle cx="252.6" cy="1067.5" r="8.8" fill="#009E73"/><circle cx="360" cy="1067.5" r="8.8" fill="#009E73"/><circle cx="397" cy="1067.5" r="8.8" fill="#009E73"/><circle cx="494.1" cy="1067.5" r="8.8" fill="#009E73"/><circle cx="642.4" cy="1067.5" r="8.8" fill="#009E73"/><circle cx="602.8" cy="1067.5" r="8.8" fill="#009E73"/><circle cx="645.6" cy="999.8" r="8.8" fill="#009E73"/><circle cx="680.3" cy="1000.4" r="8.8" fill="#009E73"/><circle cx="517.2" cy="1012" r="8.8" fill="#009E73"/><circle cx="529.2" cy="1023.9" r="8.8" fill="#009E73"/></g>
<g><circle cx="466.08" cy="670.91" r="8.8" fill="#0072B2"/><circle cx="239.72" cy="740.08" r="8.8" fill="#0072B2"/><circle cx="362.43" cy="748.37" r="8.8" fill="#0072B2"/><circle cx="239.41" cy="752.66" r="8.8" fill="#0072B2"/><circle cx="371.75" cy="790" r="8.8" fill="#0072B2"/><circle cx="287.84" cy="810.48" r="8.8" fill="#0072B2"/><circle cx="516.62" cy="801.51" r="8.8" fill="#0072B2"/><circle cx="296.4" cy="827.63" r="8.8" fill="#0072B2"/><circle cx="214.3" cy="831.21" r="8.8" fill="#0072B2"/><circle cx="246" cy="838.82" r="8.8" fill="#0072B2"/><circle cx="437.9" cy="832.68" r="8.8" fill="#0072B2"/><circle cx="456.6" cy="835.54" r="8.8" fill="#0072B2"/><circle cx="352.9" cy="844.3" r="8.8" fill="#0072B2"/><circle cx="221.1" cy="863.49" r="8.8" fill="#0072B2"/><circle cx="488.8" cy="872.54" r="8.8" fill="#0072B2"/><circle cx="466.2" cy="888.82" r="8.8" fill="#0072B2"/><circle cx="334.2" cy="909.98" r="8.8" fill="#0072B2"/><circle cx="435.9" cy="913.45" r="8.8" fill="#0072B2"/><circle cx="666.1" cy="859.74" r="8.8" fill="#0072B2"/><circle cx="438.7" cy="833.53" r="8.8" fill="#0072B2"/></g>
<g><circle cx="251.56" cy="716.31" r="8.8" fill="#CC79A7"/><circle cx="233.49" cy="751.71" r="8.8" fill="#CC79A7"/><circle cx="256.8" cy="753.93" r="8.8" fill="#CC79A7"/><circle cx="261.5" cy="756.05" r="8.8" fill="#CC79A7"/><circle cx="210.32" cy="773.59" r="8.8" fill="#CC79A7"/><circle cx="208.88" cy="776.37" r="8.8" fill="#CC79A7"/><circle cx="253.34" cy="774.54" r="8.8" fill="#CC79A7"/><circle cx="286.22" cy="786.41" r="8.8" fill="#CC79A7"/><circle cx="257.85" cy="789.45" r="8.8" fill="#CC79A7"/><circle cx="223.9" cy="797.7" r="8.8" fill="#CC79A7"/><circle cx="209.4" cy="799.97" r="8.8" fill="#CC79A7"/><circle cx="352.9" cy="813.97" r="8.8" fill="#CC79A7"/><circle cx="354" cy="817.37" r="8.8" fill="#CC79A7"/><circle cx="239.5" cy="819.58" r="8.8" fill="#CC79A7"/><circle cx="230.9" cy="834.87" r="8.8" fill="#CC79A7"/><circle cx="303.1" cy="837.75" r="8.8" fill="#CC79A7"/><circle cx="321.2" cy="847.85" r="8.8" fill="#CC79A7"/><circle cx="221.1" cy="859.34" r="8.8" fill="#CC79A7"/><circle cx="214.3" cy="882.08" r="8.8" fill="#CC79A7"/><circle cx="221.1" cy="884.11" r="8.8" fill="#CC79A7"/><circle cx="215" cy="893.28" r="8.8" fill="#CC79A7"/><circle cx="219.3" cy="894.21" r="8.8" fill="#CC79A7"/><circle cx="254.7" cy="894.29" r="8.8" fill="#CC79A7"/><circle cx="300.5" cy="902.71" r="8.8" fill="#CC79A7"/><circle cx="201.9" cy="909.74" r="8.8" fill="#CC79A7"/></g>
<g><path d="M391.3 67.6L403.5 55.1L415.7 67.6L403.5 80.1Z" fill="#56B4E9"/><path d="M485.4 252.1L497.6 239.6L509.8 252.1L497.6 264.6Z" fill="#56B4E9"/></g>
</g>
<path d="M202 1117.5v9M359.25 1117.5v9M516.5 1117.5v9M673.75 1117.5v9M831 1117.5v9M139.4 1067.4h-9M139.4 927.4h-9M139.4 787.4h-9M139.4 647.4h-9M139.4 507.4h-9M139.4 367.4h-9M139.4 227.4h-9M139.4 87.4h-9" stroke="#000" stroke-width="2" fill="none"/>
<rect x="139.4" y="17.4" width="754.9" height="1100.1" fill="none" stroke="#000" stroke-width="2.2"/>
<g font-size="50" fill="#000">
<text x="202" y="1172.2" text-anchor="middle">0.00</text>
<text x="359.25" y="1172.2" text-anchor="middle">0.25</text>
<text x="516.5" y="1172.2" text-anchor="middle">0.50</text>
<text x="673.75" y="1172.2" text-anchor="middle">0.75</text>
<text x="831" y="1172.2" text-anchor="middle">1.00</text>
<text x="122" y="1086.8" text-anchor="end">0</text>
<text x="122" y="946.8" text-anchor="end">1</text>
<text x="122" y="806.8" text-anchor="end">2</text>
<text x="122" y="666.8" text-anchor="end">3</text>
<text x="122" y="526.8" text-anchor="end">4</text>
<text x="122" y="386.8" text-anchor="end">5</text>
<text x="122" y="246.8" text-anchor="end">6</text>
<text x="122" y="106.8" text-anchor="end">7</text>
</g>
<clipPath id="clip2"><rect x="1045.2" y="17.4" width="755" height="1100.1"/></clipPath>
<g clip-path="url(#clip2)">
<g><circle cx="1108" cy="767" r="8.9" fill="#000000"/><circle cx="1108" cy="825.4" r="8.9" fill="#000000"/><circle cx="1108" cy="994.9" r="8.9" fill="#000000"/><circle cx="1157" cy="1086.6" r="8.9" fill="#000000"/><circle cx="1423" cy="1589.62" r="8.9" fill="#000000"/></g>
<g><circle cx="1108" cy="178.85" r="8.9" fill="#F0E442"/><circle cx="1108" cy="328.98" r="8.9" fill="#F0E442"/><circle cx="1108.05" cy="424.54" r="8.9" fill="#F0E442"/><circle cx="1108.05" cy="534.85" r="8.9" fill="#F0E442"/><circle cx="1107.97" cy="560.06" r="8.9" fill="#F0E442"/><circle cx="1107.97" cy="619.61" r="8.9" fill="#F0E442"/><circle cx="1108" cy="690.1" r="8.9" fill="#F0E442"/><circle cx="1108" cy="706" r="8.9" fill="#F0E442"/><circle cx="1108" cy="726.5" r="8.9" fill="#F0E442"/><circle cx="1108" cy="802" r="8.9" fill="#F0E442"/><circle cx="1108" cy="812" r="8.9" fill="#F0E442"/><circle cx="1108" cy="883.1" r="8.9" fill="#F0E442"/><circle cx="1108" cy="913.8" r="8.9" fill="#F0E442"/><circle cx="1108.2" cy="-148.39" r="8.9" fill="#F0E442"/></g>
<g><circle cx="1108" cy="67.13" r="8.9" fill="#D55E00"/><circle cx="1139.66" cy="412.12" r="8.9" fill="#D55E00"/><circle cx="1108" cy="572.6" r="8.9" fill="#D55E00"/><circle cx="1108" cy="580" r="8.9" fill="#D55E00"/><circle cx="1108" cy="804.8" r="8.9" fill="#D55E00"/><circle cx="1108" cy="897.9" r="8.9" fill="#D55E00"/><circle cx="1108" cy="932.1" r="8.9" fill="#D55E00"/></g>
<g><path d="M1112.3 282.93H1125.9" stroke="#E69F00" stroke-width="3.75" fill="none"/><path d="M1101.05 282.93L1112.3 275.43L1112.3 290.43Z" fill="#E69F00" stroke="#E69F00" stroke-width="2.5" stroke-linejoin="round"/><path d="M1174.66 319.74H1188.26" stroke="#E69F00" stroke-width="3.75" fill="none"/><path d="M1163.41 319.74L1174.66 312.24L1174.66 327.24Z" fill="#E69F00" stroke="#E69F00" stroke-width="2.5" stroke-linejoin="round"/><path d="M1236.88 334.04H1250.48" stroke="#E69F00" stroke-width="3.75" fill="none"/><path d="M1225.63 334.04L1236.88 326.54L1236.88 341.54Z" fill="#E69F00" stroke="#E69F00" stroke-width="2.5" stroke-linejoin="round"/><path d="M1388.9 263.88H1402.5" stroke="#E69F00" stroke-width="3.75" fill="none"/><path d="M1377.65 263.88L1388.9 256.38L1388.9 271.38Z" fill="#E69F00" stroke="#E69F00" stroke-width="2.5" stroke-linejoin="round"/><path d="M1330.43 390.96H1344.03" stroke="#E69F00" stroke-width="3.75" fill="none"/><path d="M1319.18 390.96L1330.43 383.46L1330.43 398.46Z" fill="#E69F00" stroke="#E69F00" stroke-width="2.5" stroke-linejoin="round"/><path d="M1325.67 513.67H1339.27" stroke="#E69F00" stroke-width="3.75" fill="none"/><path d="M1314.42 513.67L1325.67 506.17L1325.67 521.17Z" fill="#E69F00" stroke="#E69F00" stroke-width="2.5" stroke-linejoin="round"/><path d="M1154.72 469.24H1168.32" stroke="#E69F00" stroke-width="3.75" fill="none"/><path d="M1143.47 469.24L1154.72 461.74L1154.72 476.74Z" fill="#E69F00" stroke="#E69F00" stroke-width="2.5" stroke-linejoin="round"/><path d="M1189.76 586.05H1203.36" stroke="#E69F00" stroke-width="3.75" fill="none"/><path d="M1178.51 586.05L1189.76 578.55L1189.76 593.55Z" fill="#E69F00" stroke="#E69F00" stroke-width="2.5" stroke-linejoin="round"/><path d="M1179.26 614.41H1192.86" stroke="#E69F00" stroke-width="3.75" fill="none"/><path d="M1168.01 614.41L1179.26 606.91L1179.26 621.91Z" fill="#E69F00" stroke="#E69F00" stroke-width="2.5" stroke-linejoin="round"/><path d="M1139.7 573H1153.3" stroke="#E69F00" stroke-width="3.75" fill="none"/><path d="M1128.45 573L1139.7 565.5L1139.7 580.5Z" fill="#E69F00" stroke="#E69F00" stroke-width="2.5" stroke-linejoin="round"/><path d="M1314.17 615.28H1327.77" stroke="#E69F00" stroke-width="3.75" fill="none"/><path d="M1302.92 615.28L1314.17 607.78L1314.17 622.78Z" fill="#E69F00" stroke="#E69F00" stroke-width="2.5" stroke-linejoin="round"/><path d="M1353.69 628.81H1367.29" stroke="#E69F00" stroke-width="3.75" fill="none"/><path d="M1342.44 628.81L1353.69 621.31L1353.69 636.31Z" fill="#E69F00" stroke="#E69F00" stroke-width="2.5" stroke-linejoin="round"/><path d="M1203.2 645.9H1216.8" stroke="#E69F00" stroke-width="3.75" fill="none"/><path d="M1191.95 645.9L1203.2 638.4L1203.2 653.4Z" fill="#E69F00" stroke="#E69F00" stroke-width="2.5" stroke-linejoin="round"/><path d="M1128.4 652.7H1142" stroke="#E69F00" stroke-width="3.75" fill="none"/><path d="M1117.15 652.7L1128.4 645.2L1128.4 660.2Z" fill="#E69F00" stroke="#E69F00" stroke-width="2.5" stroke-linejoin="round"/><path d="M1110.4 689.7H1124" stroke="#E69F00" stroke-width="3.75" fill="none"/><path d="M1099.15 689.7L1110.4 682.2L1110.4 697.2Z" fill="#E69F00" stroke="#E69F00" stroke-width="2.5" stroke-linejoin="round"/><path d="M1126.6 692.6H1140.2" stroke="#E69F00" stroke-width="3.75" fill="none"/><path d="M1115.35 692.6L1126.6 685.1L1126.6 700.1Z" fill="#E69F00" stroke="#E69F00" stroke-width="2.5" stroke-linejoin="round"/><path d="M1138.9 700.6H1152.5" stroke="#E69F00" stroke-width="3.75" fill="none"/><path d="M1127.65 700.6L1138.9 693.1L1138.9 708.1Z" fill="#E69F00" stroke="#E69F00" stroke-width="2.5" stroke-linejoin="round"/><path d="M1148.6 715.4H1162.2" stroke="#E69F00" stroke-width="3.75" fill="none"/><path d="M1137.35 715.4L1148.6 707.9L1148.6 722.9Z" fill="#E69F00" stroke="#E69F00" stroke-width="2.5" stroke-linejoin="round"/><path d="M1145.7 763.7H1159.3" stroke="#E69F00" stroke-width="3.75" fill="none"/><path d="M1134.45 763.7L1145.7 756.2L1145.7 771.2Z" fill="#E69F00" stroke="#E69F00" stroke-width="2.5" stroke-linejoin="round"/><path d="M1326.3 688.3H1339.9" stroke="#E69F00" stroke-width="3.75" fill="none"/><path d="M1315.05 688.3L1326.3 680.8L1326.3 695.8Z" fill="#E69F00" stroke="#E69F00" stroke-width="2.5" stroke-linejoin="round"/><path d="M1163.4 788.8H1177" stroke="#E69F00" stroke-width="3.75" fill="none"/><path d="M1152.15 788.8L1163.4 781.3L1163.4 796.3Z" fill="#E69F00" stroke="#E69F00" stroke-width="2.5" stroke-linejoin="round"/><path d="M1254.5 798.3H1268.1" stroke="#E69F00" stroke-width="3.75" fill="none"/><path d="M1243.25 798.3L1254.5 790.8L1254.5 805.8Z" fill="#E69F00" stroke="#E69F00" stroke-width="2.5" stroke-linejoin="round"/><path d="M1310.8 810H1324.4" stroke="#E69F00" stroke-width="3.75" fill="none"/><path d="M1299.55 810L1310.8 802.5L1310.8 817.5Z" fill="#E69F00" stroke="#E69F00" stroke-width="2.5" stroke-linejoin="round"/><path d="M1279.7 828.8H1293.3" stroke="#E69F00" stroke-width="3.75" fill="none"/><path d="M1268.45 828.8L1279.7 821.3L1279.7 836.3Z" fill="#E69F00" stroke="#E69F00" stroke-width="2.5" stroke-linejoin="round"/><path d="M1320.9 838H1334.5" stroke="#E69F00" stroke-width="3.75" fill="none"/><path d="M1309.65 838L1320.9 830.5L1320.9 845.5Z" fill="#E69F00" stroke="#E69F00" stroke-width="2.5" stroke-linejoin="round"/><path d="M1383.2 781.9H1396.8" stroke="#E69F00" stroke-width="3.75" fill="none"/><path d="M1371.95 781.9L1383.2 774.4L1383.2 789.4Z" fill="#E69F00" stroke="#E69F00" stroke-width="2.5" stroke-linejoin="round"/><path d="M1415.5 834.8H1429.1" stroke="#E69F00" stroke-width="3.75" fill="none"/><path d="M1404.25 834.8L1415.5 827.3L1415.5 842.3Z" fill="#E69F00" stroke="#E69F00" stroke-width="2.5" stroke-linejoin="round"/><path d="M1173.1 842.7H1186.7" stroke="#E69F00" stroke-width="3.75" fill="none"/><path d="M1161.85 842.7L1173.1 835.2L1173.1 850.2Z" fill="#E69F00" stroke="#E69F00" stroke-width="2.5" stroke-linejoin="round"/><path d="M1246.2 848.8H1259.8" stroke="#E69F00" stroke-width="3.75" fill="none"/><path d="M1234.95 848.8L1246.2 841.3L1246.2 856.3Z" fill="#E69F00" stroke="#E69F00" stroke-width="2.5" stroke-linejoin="round"/><path d="M1140.7 880.6H1154.3" stroke="#E69F00" stroke-width="3.75" fill="none"/><path d="M1129.45 880.6L1140.7 873.1L1140.7 888.1Z" fill="#E69F00" stroke="#E69F00" stroke-width="2.5" stroke-linejoin="round"/><path d="M1181.1 986H1194.7" stroke="#E69F00" stroke-width="3.75" fill="none"/><path d="M1169.85 986L1181.1 978.5L1181.1 993.5Z" fill="#E69F00" stroke="#E69F00" stroke-width="2.5" stroke-linejoin="round"/><path d="M1110.7 1023.9H1124.3" stroke="#E69F00" stroke-width="3.75" fill="none"/><path d="M1099.45 1023.9L1110.7 1016.4L1110.7 1031.4Z" fill="#E69F00" stroke="#E69F00" stroke-width="2.5" stroke-linejoin="round"/><path d="M1189.1 1054.4H1202.7" stroke="#E69F00" stroke-width="3.75" fill="none"/><path d="M1177.85 1054.4L1189.1 1046.9L1189.1 1061.9Z" fill="#E69F00" stroke="#E69F00" stroke-width="2.5" stroke-linejoin="round"/><path d="M1326.6 1071.2H1340.2" stroke="#E69F00" stroke-width="3.75" fill="none"/><path d="M1315.35 1071.2L1326.6 1063.7L1326.6 1078.7Z" fill="#E69F00" stroke="#E69F00" stroke-width="2.5" stroke-linejoin="round"/><path d="M1443.7 1016.1H1457.3" stroke="#E69F00" stroke-width="3.75" fill="none"/><path d="M1432.45 1016.1L1443.7 1008.6L1443.7 1023.6Z" fill="#E69F00" stroke="#E69F00" stroke-width="2.5" stroke-linejoin="round"/><path d="M1453.4 1069.1H1467" stroke="#E69F00" stroke-width="3.75" fill="none"/><path d="M1442.15 1069.1L1453.4 1061.6L1453.4 1076.6Z" fill="#E69F00" stroke="#E69F00" stroke-width="2.5" stroke-linejoin="round"/><path d="M1642.4 587.8H1656" stroke="#E69F00" stroke-width="3.75" fill="none"/><path d="M1631.15 587.8L1642.4 580.3L1642.4 595.3Z" fill="#E69F00" stroke="#E69F00" stroke-width="2.5" stroke-linejoin="round"/><path d="M1723.5 822.4H1737.1" stroke="#E69F00" stroke-width="3.75" fill="none"/><path d="M1712.25 822.4L1723.5 814.9L1723.5 829.9Z" fill="#E69F00" stroke="#E69F00" stroke-width="2.5" stroke-linejoin="round"/><path d="M1723.5 861.4H1737.1" stroke="#E69F00" stroke-width="3.75" fill="none"/><path d="M1712.25 861.4L1723.5 853.9L1723.5 868.9Z" fill="#E69F00" stroke="#E69F00" stroke-width="2.5" stroke-linejoin="round"/><path d="M1723.5 869.5H1737.1" stroke="#E69F00" stroke-width="3.75" fill="none"/><path d="M1712.25 869.5L1723.5 862L1723.5 877Z" fill="#E69F00" stroke="#E69F00" stroke-width="2.5" stroke-linejoin="round"/><path d="M1104.3 -856.47H1117.9" stroke="#E69F00" stroke-width="3.75" fill="none"/><path d="M1093.05 -856.47L1104.3 -863.97L1104.3 -848.97Z" fill="#E69F00" stroke="#E69F00" stroke-width="2.5" stroke-linejoin="round"/><path d="M1471.8 1589.62H1485.4" stroke="#E69F00" stroke-width="3.75" fill="none"/><path d="M1460.55 1589.62L1471.8 1582.12L1471.8 1597.12Z" fill="#E69F00" stroke="#E69F00" stroke-width="2.5" stroke-linejoin="round"/></g>
<g><path d="M1217.42 115.49H1268.38" stroke="#009E73" stroke-width="3.75" fill="none"/><path d="M1217.42 107.89V123.09M1268.38 107.89V123.09" stroke="#009E73" stroke-width="2.8" fill="none"/><path d="M1300 76.51H1325.26" stroke="#009E73" stroke-width="3.75" fill="none"/><path d="M1300 68.91V84.11M1325.26 68.91V84.11" stroke="#009E73" stroke-width="2.8" fill="none"/><path d="M1133.11 300.83H1232.44" stroke="#009E73" stroke-width="3.75" fill="none"/><path d="M1133.11 293.23V308.43M1232.44 293.23V308.43" stroke="#009E73" stroke-width="2.8" fill="none"/><path d="M1108.28 375.8H1161.55" stroke="#009E73" stroke-width="3.75" fill="none"/><path d="M1108.28 368.2V383.4M1161.55 368.2V383.4" stroke="#009E73" stroke-width="2.8" fill="none"/><path d="M1140.35 607.16H1194.7" stroke="#009E73" stroke-width="3.75" fill="none"/><path d="M1140.35 599.56V614.76M1194.7 599.56V614.76" stroke="#009E73" stroke-width="2.8" fill="none"/><path d="M1109.1 574.8H1133.8" stroke="#009E73" stroke-width="3.75" fill="none"/><path d="M1109.1 567.2V582.4M1133.8 567.2V582.4" stroke="#009E73" stroke-width="2.8" fill="none"/><path d="M1130 571.9H1155.7" stroke="#009E73" stroke-width="3.75" fill="none"/><path d="M1130 564.3V579.5M1155.7 564.3V579.5" stroke="#009E73" stroke-width="2.8" fill="none"/><path d="M1277.9 603.9H1416.3" stroke="#009E73" stroke-width="3.75" fill="none"/><path d="M1277.9 596.3V611.5M1416.3 596.3V611.5" stroke="#009E73" stroke-width="2.8" fill="none"/><path d="M1116.2 658.9H1136.4" stroke="#009E73" stroke-width="3.75" fill="none"/><path d="M1116.2 651.3V666.5M1136.4 651.3V666.5" stroke="#009E73" stroke-width="2.8" fill="none"/><path d="M1109.5 702H1165.8" stroke="#009E73" stroke-width="3.75" fill="none"/><path d="M1109.5 694.4V709.6M1165.8 694.4V709.6" stroke="#009E73" stroke-width="2.8" fill="none"/><path d="M1141.5 712.5H1172.2" stroke="#009E73" stroke-width="3.75" fill="none"/><path d="M1141.5 704.9V720.1M1172.2 704.9V720.1" stroke="#009E73" stroke-width="2.8" fill="none"/><path d="M1110 713.2H1120" stroke="#009E73" stroke-width="3.75" fill="none"/><path d="M1110 705.6V720.8M1120 705.6V720.8" stroke="#009E73" stroke-width="2.8" fill="none"/><path d="M1342.5 677.7H1348.7" stroke="#009E73" stroke-width="3.75" fill="none"/><path d="M1342.5 670.1V685.3M1348.7 670.1V685.3" stroke="#009E73" stroke-width="2.8" fill="none"/><path d="M1309.5 737.7H1322" stroke="#009E73" stroke-width="3.75" fill="none"/><path d="M1309.5 730.1V745.3M1322 730.1V745.3" stroke="#009E73" stroke-width="2.8" fill="none"/><path d="M1281.4 760.2H1308.1" stroke="#009E73" stroke-width="3.75" fill="none"/><path d="M1281.4 752.6V767.8M1308.1 752.6V767.8" stroke="#009E73" stroke-width="2.8" fill="none"/><path d="M1244.2 768.7H1296.2" stroke="#009E73" stroke-width="3.75" fill="none"/><path d="M1244.2 761.1V776.3M1296.2 761.1V776.3" stroke="#009E73" stroke-width="2.8" fill="none"/><path d="M1365.4 713H1405.6" stroke="#009E73" stroke-width="3.75" fill="none"/><path d="M1365.4 705.4V720.6M1405.6 705.4V720.6" stroke="#009E73" stroke-width="2.8" fill="none"/><path d="M1430 741H1436" stroke="#009E73" stroke-width="3.75" fill="none"/><path d="M1430 733.4V748.6M1436 733.4V748.6" stroke="#009E73" stroke-width="2.8" fill="none"/><path d="M1125.3 737.7H1158.5" stroke="#009E73" stroke-width="3.75" fill="none"/><path d="M1125.3 730.1V745.3M1158.5 730.1V745.3" stroke="#009E73" stroke-width="2.8" fill="none"/><path d="M1110.8 740.3H1125.1" stroke="#009E73" stroke-width="3.75" fill="none"/><path d="M1110.8 732.7V747.9M1125.1 732.7V747.9" stroke="#009E73" stroke-width="2.8" fill="none"/><path d="M1124.5 783.9H1130.5" stroke="#009E73" stroke-width="3.75" fill="none"/><path d="M1124.5 776.3V791.5M1130.5 776.3V791.5" stroke="#009E73" stroke-width="2.8" fill="none"/><path d="M1111.1 791.8H1152.5" stroke="#009E73" stroke-width="3.75" fill="none"/><path d="M1111.1 784.2V799.4M1152.5 784.2V799.4" stroke="#009E73" stroke-width="2.8" fill="none"/><path d="M1128 800.1H1152.5" stroke="#009E73" stroke-width="3.75" fill="none"/><path d="M1128 792.5V807.7M1152.5 792.5V807.7" stroke="#009E73" stroke-width="2.8" fill="none"/><path d="M1187.4 781.3H1250" stroke="#009E73" stroke-width="3.75" fill="none"/><path d="M1187.4 773.7V788.9M1250 773.7V788.9" stroke="#009E73" stroke-width="2.8" fill="none"/><path d="M1118.1 818.9H1231.5" stroke="#009E73" stroke-width="3.75" fill="none"/><path d="M1118.1 811.3V826.5M1231.5 811.3V826.5" stroke="#009E73" stroke-width="2.8" fill="none"/><path d="M1260.6 795.1H1282.5" stroke="#009E73" stroke-width="3.75" fill="none"/><path d="M1260.6 787.5V802.7M1282.5 787.5V802.7" stroke="#009E73" stroke-width="2.8" fill="none"/><path d="M1108.1 840.2H1178.4" stroke="#009E73" stroke-width="3.75" fill="none"/><path d="M1108.1 832.6V847.8M1178.4 832.6V847.8" stroke="#009E73" stroke-width="2.8" fill="none"/><path d="M1128.2 838.5H1190.5" stroke="#009E73" stroke-width="3.75" fill="none"/><path d="M1128.2 830.9V846.1M1190.5 830.9V846.1" stroke="#009E73" stroke-width="2.8" fill="none"/><path d="M1108.1 850.3H1170.5" stroke="#009E73" stroke-width="3.75" fill="none"/><path d="M1108.1 842.7V857.9M1170.5 842.7V857.9" stroke="#009E73" stroke-width="2.8" fill="none"/><path d="M1140.1 852.9H1167.6" stroke="#009E73" stroke-width="3.75" fill="none"/><path d="M1140.1 845.3V860.5M1167.6 845.3V860.5" stroke="#009E73" stroke-width="2.8" fill="none"/><path d="M1109.6 854.6H1260.6" stroke="#009E73" stroke-width="3.75" fill="none"/><path d="M1109.6 847V862.2M1260.6 847V862.2" stroke="#009E73" stroke-width="2.8" fill="none"/><path d="M1170.8 851.3H1321.8" stroke="#009E73" stroke-width="3.75" fill="none"/><path d="M1170.8 843.7V858.9M1321.8 843.7V858.9" stroke="#009E73" stroke-width="2.8" fill="none"/><path d="M1113 870.8H1152.2" stroke="#009E73" stroke-width="3.75" fill="none"/><path d="M1113 863.2V878.4M1152.2 863.2V878.4" stroke="#009E73" stroke-width="2.8" fill="none"/><path d="M1108 888.5H1189.8" stroke="#009E73" stroke-width="3.75" fill="none"/><path d="M1108 880.9V896.1M1189.8 880.9V896.1" stroke="#009E73" stroke-width="2.8" fill="none"/><path d="M1259 887.4H1265" stroke="#009E73" stroke-width="3.75" fill="none"/><path d="M1259 879.8V895M1265 879.8V895" stroke="#009E73" stroke-width="2.8" fill="none"/><path d="M1249.5 915H1327.6" stroke="#009E73" stroke-width="3.75" fill="none"/><path d="M1249.5 907.4V922.6M1327.6 907.4V922.6" stroke="#009E73" stroke-width="2.8" fill="none"/><path d="M1349 887.4H1355" stroke="#009E73" stroke-width="3.75" fill="none"/><path d="M1349 879.8V895M1355 879.8V895" stroke="#009E73" stroke-width="2.8" fill="none"/><path d="M1108 927.1H1125.4" stroke="#009E73" stroke-width="3.75" fill="none"/><path d="M1108 919.5V934.7M1125.4 919.5V934.7" stroke="#009E73" stroke-width="2.8" fill="none"/><path d="M1114.6 949.1H1130.5" stroke="#009E73" stroke-width="3.75" fill="none"/><path d="M1114.6 941.5V956.7M1130.5 941.5V956.7" stroke="#009E73" stroke-width="2.8" fill="none"/><path d="M1170.5 949.8H1198.5" stroke="#009E73" stroke-width="3.75" fill="none"/><path d="M1170.5 942.2V957.4M1198.5 942.2V957.4" stroke="#009E73" stroke-width="2.8" fill="none"/><path d="M1170.5 958.5H1227.6" stroke="#009E73" stroke-width="3.75" fill="none"/><path d="M1170.5 950.9V966.1M1227.6 950.9V966.1" stroke="#009E73" stroke-width="2.8" fill="none"/><path d="M1109.5 970H1142.2" stroke="#009E73" stroke-width="3.75" fill="none"/><path d="M1109.5 962.4V977.6M1142.2 962.4V977.6" stroke="#009E73" stroke-width="2.8" fill="none"/><path d="M1108 972.9H1121" stroke="#009E73" stroke-width="3.75" fill="none"/><path d="M1108 965.3V980.5M1121 965.3V980.5" stroke="#009E73" stroke-width="2.8" fill="none"/><path d="M1116 986.8H1122.5" stroke="#009E73" stroke-width="3.75" fill="none"/><path d="M1116 979.2V994.4M1122.5 979.2V994.4" stroke="#009E73" stroke-width="2.8" fill="none"/><path d="M1246.4 972.9H1340.7" stroke="#009E73" stroke-width="3.75" fill="none"/><path d="M1246.4 965.3V980.5M1340.7 965.3V980.5" stroke="#009E73" stroke-width="2.8" fill="none"/><path d="M1283.6 966.4H1312.4" stroke="#009E73" stroke-width="3.75" fill="none"/><path d="M1283.6 958.8V974M1312.4 958.8V974" stroke="#009E73" stroke-width="2.8" fill="none"/><path d="M1333 932.1H1379.4" stroke="#009E73" stroke-width="3.75" fill="none"/><path d="M1333 924.5V939.7M1379.4 924.5V939.7" stroke="#009E73" stroke-width="2.8" fill="none"/><path d="M1366.3 932.1H1397" stroke="#009E73" stroke-width="3.75" fill="none"/><path d="M1366.3 924.5V939.7M1397 924.5V939.7" stroke="#009E73" stroke-width="2.8" fill="none"/><path d="M1365.8 957H1517" stroke="#009E73" stroke-width="3.75" fill="none"/><path d="M1365.8 949.4V964.6M1517 949.4V964.6" stroke="#009E73" stroke-width="2.8" fill="none"/><path d="M1156.5 994.1H1191.5" stroke="#009E73" stroke-width="3.75" fill="none"/><path d="M1156.5 986.5V1001.7M1191.5 986.5V1001.7" stroke="#009E73" stroke-width="2.8" fill="none"/><path d="M1169.5 1047.2H1209.9" stroke="#009E73" stroke-width="3.75" fill="none"/><path d="M1169.5 1039.6V1054.8M1209.9 1039.6V1054.8" stroke="#009E73" stroke-width="2.8" fill="none"/><path d="M1254.6 1003.3H1286.3" stroke="#009E73" stroke-width="3.75" fill="none"/><path d="M1254.6 995.7V1010.9M1286.3 995.7V1010.9" stroke="#009E73" stroke-width="2.8" fill="none"/><path d="M1233.4 1112.9H1251.1" stroke="#009E73" stroke-width="3.75" fill="none"/><path d="M1233.4 1105.3V1120.5M1251.1 1105.3V1120.5" stroke="#009E73" stroke-width="2.8" fill="none"/><path d="M1606.4 554.8H1640.6" stroke="#009E73" stroke-width="3.75" fill="none"/><path d="M1606.4 547.2V562.4M1640.6 547.2V562.4" stroke="#009E73" stroke-width="2.8" fill="none"/><path d="M1534 888.9H1540" stroke="#009E73" stroke-width="3.75" fill="none"/><path d="M1534 881.3V896.5M1540 881.3V896.5" stroke="#009E73" stroke-width="2.8" fill="none"/><path d="M1485.3 964.5H1516.6" stroke="#009E73" stroke-width="3.75" fill="none"/><path d="M1485.3 956.9V972.1M1516.6 956.9V972.1" stroke="#009E73" stroke-width="2.8" fill="none"/><path d="M1135.5 -326.91H1159.4" stroke="#009E73" stroke-width="3.75" fill="none"/><path d="M1135.5 -334.51V-319.31M1159.4 -334.51V-319.31" stroke="#009E73" stroke-width="2.8" fill="none"/><path d="M1131.4 -146.9H1228.3" stroke="#009E73" stroke-width="3.75" fill="none"/><path d="M1131.4 -154.5V-139.3M1228.3 -154.5V-139.3" stroke="#009E73" stroke-width="2.8" fill="none"/><path d="M1203.8 -102.36H1256.4" stroke="#009E73" stroke-width="3.75" fill="none"/><path d="M1203.8 -109.96V-94.76M1256.4 -109.96V-94.76" stroke="#009E73" stroke-width="2.8" fill="none"/><path d="M1189.8 1121.81H1290.8" stroke="#009E73" stroke-width="3.75" fill="none"/><path d="M1189.8 1114.21V1129.41M1290.8 1114.21V1129.41" stroke="#009E73" stroke-width="2.8" fill="none"/><path d="M1120.5 1179.82H1133.7" stroke="#009E73" stroke-width="3.75" fill="none"/><path d="M1120.5 1172.22V1187.42M1133.7 1172.22V1187.42" stroke="#009E73" stroke-width="2.8" fill="none"/><path d="M1158.6 1217.62H1359.8" stroke="#009E73" stroke-width="3.75" fill="none"/><path d="M1158.6 1210.02V1225.22M1359.8 1210.02V1225.22" stroke="#009E73" stroke-width="2.8" fill="none"/><path d="M1286.8 1223.98H1314.5" stroke="#009E73" stroke-width="3.75" fill="none"/><path d="M1286.8 1216.38V1231.58M1314.5 1216.38V1231.58" stroke="#009E73" stroke-width="2.8" fill="none"/><path d="M1290.4 1250.93H1312" stroke="#009E73" stroke-width="3.75" fill="none"/><path d="M1290.4 1243.33V1258.53M1312 1243.33V1258.53" stroke="#009E73" stroke-width="2.8" fill="none"/><path d="M1125.1 1258.04H1188.6" stroke="#009E73" stroke-width="3.75" fill="none"/><path d="M1125.1 1250.44V1265.64M1188.6 1250.44V1265.64" stroke="#009E73" stroke-width="2.8" fill="none"/><path d="M1309.6 1287.23H1334.7" stroke="#009E73" stroke-width="3.75" fill="none"/><path d="M1309.6 1279.63V1294.83M1334.7 1279.63V1294.83" stroke="#009E73" stroke-width="2.8" fill="none"/><path d="M1334.7 1287.23H1491.9" stroke="#009E73" stroke-width="3.75" fill="none"/><path d="M1334.7 1279.63V1294.83M1491.9 1279.63V1294.83" stroke="#009E73" stroke-width="2.8" fill="none"/><path d="M1233.6 1323.91H1322.1" stroke="#009E73" stroke-width="3.75" fill="none"/><path d="M1233.6 1316.31V1331.51M1322.1 1316.31V1331.51" stroke="#009E73" stroke-width="2.8" fill="none"/><path d="M1139.5 1348.23H1202.7" stroke="#009E73" stroke-width="3.75" fill="none"/><path d="M1139.5 1340.63V1355.83M1202.7 1340.63V1355.83" stroke="#009E73" stroke-width="2.8" fill="none"/><path d="M1260.5 1407.74H1281.7" stroke="#009E73" stroke-width="3.75" fill="none"/><path d="M1260.5 1400.14V1415.34M1281.7 1400.14V1415.34" stroke="#009E73" stroke-width="2.8" fill="none"/><path d="M1114.5 1430.57H1278.1" stroke="#009E73" stroke-width="3.75" fill="none"/><path d="M1114.5 1422.97V1438.17M1278.1 1422.97V1438.17" stroke="#009E73" stroke-width="2.8" fill="none"/><path d="M1152.2 1539.1H1252.8" stroke="#009E73" stroke-width="3.75" fill="none"/><path d="M1152.2 1531.5V1546.7M1252.8 1531.5V1546.7" stroke="#009E73" stroke-width="2.8" fill="none"/><path d="M1309.1 1537.23H1335.6" stroke="#009E73" stroke-width="3.75" fill="none"/><path d="M1309.1 1529.63V1544.83M1335.6 1529.63V1544.83" stroke="#009E73" stroke-width="2.8" fill="none"/><path d="M1108.1 1589.62H1152.2" stroke="#009E73" stroke-width="3.75" fill="none"/><path d="M1108.1 1582.02V1597.22M1152.2 1582.02V1597.22" stroke="#009E73" stroke-width="2.8" fill="none"/><path d="M1127.6 1589.62H1189.8" stroke="#009E73" stroke-width="3.75" fill="none"/><path d="M1127.6 1582.02V1597.22M1189.8 1582.02V1597.22" stroke="#009E73" stroke-width="2.8" fill="none"/><path d="M1152.2 1589.62H1386.2" stroke="#009E73" stroke-width="3.75" fill="none"/><path d="M1152.2 1582.02V1597.22M1386.2 1582.02V1597.22" stroke="#009E73" stroke-width="2.8" fill="none"/><path d="M1284.6 1589.62H1322.1" stroke="#009E73" stroke-width="3.75" fill="none"/><path d="M1284.6 1582.02V1597.22M1322.1 1582.02V1597.22" stroke="#009E73" stroke-width="2.8" fill="none"/><path d="M1386.2 1589.62H1413.7" stroke="#009E73" stroke-width="3.75" fill="none"/><path d="M1386.2 1582.02V1597.22M1413.7 1582.02V1597.22" stroke="#009E73" stroke-width="2.8" fill="none"/><path d="M1422.6 1589.62H1674.3" stroke="#009E73" stroke-width="3.75" fill="none"/><path d="M1422.6 1582.02V1597.22M1674.3 1582.02V1597.22" stroke="#009E73" stroke-width="2.8" fill="none"/><path d="M1496.2 1589.62H1521.5" stroke="#009E73" stroke-width="3.75" fill="none"/><path d="M1496.2 1582.02V1597.22M1521.5 1582.02V1597.22" stroke="#009E73" stroke-width="2.8" fill="none"/><path d="M1537.7 1336.26H1565.5" stroke="#009E73" stroke-width="3.75" fill="none"/><path d="M1537.7 1328.66V1343.86M1565.5 1328.66V1343.86" stroke="#009E73" stroke-width="2.8" fill="none"/><path d="M1573.5 1338.5H1599" stroke="#009E73" stroke-width="3.75" fill="none"/><path d="M1573.5 1330.9V1346.1M1599 1330.9V1346.1" stroke="#009E73" stroke-width="2.8" fill="none"/><path d="M1404.6 1381.92H1442.1" stroke="#009E73" stroke-width="3.75" fill="none"/><path d="M1404.6 1374.32V1389.52M1442.1 1374.32V1389.52" stroke="#009E73" stroke-width="2.8" fill="none"/><path d="M1410.3 1426.45H1491.9" stroke="#009E73" stroke-width="3.75" fill="none"/><path d="M1410.3 1418.85V1434.05M1491.9 1418.85V1434.05" stroke="#009E73" stroke-width="2.8" fill="none"/></g>
<g><path d="M1358.58 105.39H1372.18" stroke="#0072B2" stroke-width="3.75" fill="none"/><path d="M1347.33 105.39L1358.58 97.89L1358.58 112.89Z" fill="#0072B2" stroke="#0072B2" stroke-width="2.5" stroke-linejoin="round"/><path d="M1132.22 364.25H1145.82" stroke="#0072B2" stroke-width="3.75" fill="none"/><path d="M1120.97 364.25L1132.22 356.75L1132.22 371.75Z" fill="#0072B2" stroke="#0072B2" stroke-width="2.5" stroke-linejoin="round"/><path d="M1254.93 395.29H1268.53" stroke="#0072B2" stroke-width="3.75" fill="none"/><path d="M1243.68 395.29L1254.93 387.79L1254.93 402.79Z" fill="#0072B2" stroke="#0072B2" stroke-width="2.5" stroke-linejoin="round"/><path d="M1131.91 411.33H1145.51" stroke="#0072B2" stroke-width="3.75" fill="none"/><path d="M1120.66 411.33L1131.91 403.83L1131.91 418.83Z" fill="#0072B2" stroke="#0072B2" stroke-width="2.5" stroke-linejoin="round"/><path d="M1264.25 551.07H1277.85" stroke="#0072B2" stroke-width="3.75" fill="none"/><path d="M1253 551.07L1264.25 543.57L1264.25 558.57Z" fill="#0072B2" stroke="#0072B2" stroke-width="2.5" stroke-linejoin="round"/><path d="M1180.34 627.73H1193.94" stroke="#0072B2" stroke-width="3.75" fill="none"/><path d="M1169.09 627.73L1180.34 620.23L1180.34 635.23Z" fill="#0072B2" stroke="#0072B2" stroke-width="2.5" stroke-linejoin="round"/><path d="M1409.12 594.17H1422.72" stroke="#0072B2" stroke-width="3.75" fill="none"/><path d="M1397.87 594.17L1409.12 586.67L1409.12 601.67Z" fill="#0072B2" stroke="#0072B2" stroke-width="2.5" stroke-linejoin="round"/><path d="M1188.9 691.9H1202.5" stroke="#0072B2" stroke-width="3.75" fill="none"/><path d="M1177.65 691.9L1188.9 684.4L1188.9 699.4Z" fill="#0072B2" stroke="#0072B2" stroke-width="2.5" stroke-linejoin="round"/><path d="M1106.8 705.3H1120.4" stroke="#0072B2" stroke-width="3.75" fill="none"/><path d="M1095.55 705.3L1106.8 697.8L1106.8 712.8Z" fill="#0072B2" stroke="#0072B2" stroke-width="2.5" stroke-linejoin="round"/><path d="M1138.5 733.8H1152.1" stroke="#0072B2" stroke-width="3.75" fill="none"/><path d="M1127.25 733.8L1138.5 726.3L1138.5 741.3Z" fill="#0072B2" stroke="#0072B2" stroke-width="2.5" stroke-linejoin="round"/><path d="M1330.4 710.8H1344" stroke="#0072B2" stroke-width="3.75" fill="none"/><path d="M1319.15 710.8L1330.4 703.3L1330.4 718.3Z" fill="#0072B2" stroke="#0072B2" stroke-width="2.5" stroke-linejoin="round"/><path d="M1349.1 721.5H1362.7" stroke="#0072B2" stroke-width="3.75" fill="none"/><path d="M1337.85 721.5L1349.1 714L1349.1 729Z" fill="#0072B2" stroke="#0072B2" stroke-width="2.5" stroke-linejoin="round"/><path d="M1245.4 754.3H1259" stroke="#0072B2" stroke-width="3.75" fill="none"/><path d="M1234.15 754.3L1245.4 746.8L1245.4 761.8Z" fill="#0072B2" stroke="#0072B2" stroke-width="2.5" stroke-linejoin="round"/><path d="M1113.6 826.1H1127.2" stroke="#0072B2" stroke-width="3.75" fill="none"/><path d="M1102.35 826.1L1113.6 818.6L1113.6 833.6Z" fill="#0072B2" stroke="#0072B2" stroke-width="2.5" stroke-linejoin="round"/><path d="M1381.3 860H1394.9" stroke="#0072B2" stroke-width="3.75" fill="none"/><path d="M1370.05 860L1381.3 852.5L1381.3 867.5Z" fill="#0072B2" stroke="#0072B2" stroke-width="2.5" stroke-linejoin="round"/><path d="M1358.7 920.9H1372.3" stroke="#0072B2" stroke-width="3.75" fill="none"/><path d="M1347.45 920.9L1358.7 913.4L1358.7 928.4Z" fill="#0072B2" stroke="#0072B2" stroke-width="2.5" stroke-linejoin="round"/><path d="M1226.7 1000.1H1240.3" stroke="#0072B2" stroke-width="3.75" fill="none"/><path d="M1215.45 1000.1L1226.7 992.6L1226.7 1007.6Z" fill="#0072B2" stroke="#0072B2" stroke-width="2.5" stroke-linejoin="round"/><path d="M1328.4 1013.1H1342" stroke="#0072B2" stroke-width="3.75" fill="none"/><path d="M1317.15 1013.1L1328.4 1005.6L1328.4 1020.6Z" fill="#0072B2" stroke="#0072B2" stroke-width="2.5" stroke-linejoin="round"/><path d="M1558.6 812.1H1572.2" stroke="#0072B2" stroke-width="3.75" fill="none"/><path d="M1547.35 812.1L1558.6 804.6L1558.6 819.6Z" fill="#0072B2" stroke="#0072B2" stroke-width="2.5" stroke-linejoin="round"/><path d="M1331.2 714H1344.8" stroke="#0072B2" stroke-width="3.75" fill="none"/><path d="M1319.95 714L1331.2 706.5L1331.2 721.5Z" fill="#0072B2" stroke="#0072B2" stroke-width="2.5" stroke-linejoin="round"/></g>
<g><path d="M1123.73 275.28H1207.9" stroke="#CC79A7" stroke-width="3.75" fill="none"/><path d="M1123.73 267.68V282.88M1207.9 267.68V282.88" stroke="#CC79A7" stroke-width="2.8" fill="none"/><path d="M1108.05 407.79H1271.39" stroke="#CC79A7" stroke-width="3.75" fill="none"/><path d="M1108.05 400.19V415.39M1271.39 400.19V415.39" stroke="#CC79A7" stroke-width="2.8" fill="none"/><path d="M1121.54 416.09H1202.39" stroke="#CC79A7" stroke-width="3.75" fill="none"/><path d="M1121.54 408.49V423.69M1202.39 408.49V423.69" stroke="#CC79A7" stroke-width="2.8" fill="none"/><path d="M1137.42 424.03H1197.7" stroke="#CC79A7" stroke-width="3.75" fill="none"/><path d="M1137.42 416.43V431.63M1197.7 416.43V431.63" stroke="#CC79A7" stroke-width="2.8" fill="none"/><path d="M1108.05 489.67H1130.06" stroke="#CC79A7" stroke-width="3.75" fill="none"/><path d="M1108.05 482.07V497.27M1130.06 482.07V497.27" stroke="#CC79A7" stroke-width="2.8" fill="none"/><path d="M1113.82 500.06H1124.29" stroke="#CC79A7" stroke-width="3.75" fill="none"/><path d="M1113.82 492.46V507.66M1124.29 492.46V507.66" stroke="#CC79A7" stroke-width="2.8" fill="none"/><path d="M1128.11 493.2H1212.35" stroke="#CC79A7" stroke-width="3.75" fill="none"/><path d="M1128.11 485.6V500.8M1212.35 485.6V500.8" stroke="#CC79A7" stroke-width="2.8" fill="none"/><path d="M1134.39 537.65H1270.27" stroke="#CC79A7" stroke-width="3.75" fill="none"/><path d="M1134.39 530.05V545.25M1270.27 530.05V545.25" stroke="#CC79A7" stroke-width="2.8" fill="none"/><path d="M1134.39 549.02H1199.57" stroke="#CC79A7" stroke-width="3.75" fill="none"/><path d="M1134.39 541.42V556.62M1199.57 541.42V556.62" stroke="#CC79A7" stroke-width="2.8" fill="none"/><path d="M1110.4 579.9H1196.6" stroke="#CC79A7" stroke-width="3.75" fill="none"/><path d="M1110.4 572.3V587.5M1196.6 572.3V587.5" stroke="#CC79A7" stroke-width="2.8" fill="none"/><path d="M1113 588.4H1137.5" stroke="#CC79A7" stroke-width="3.75" fill="none"/><path d="M1113 580.8V596M1137.5 580.8V596" stroke="#CC79A7" stroke-width="2.8" fill="none"/><path d="M1158.5 640.8H1359.5" stroke="#CC79A7" stroke-width="3.75" fill="none"/><path d="M1158.5 633.2V648.4M1359.5 633.2V648.4" stroke="#CC79A7" stroke-width="2.8" fill="none"/><path d="M1219.3 653.5H1285.5" stroke="#CC79A7" stroke-width="3.75" fill="none"/><path d="M1219.3 645.9V661.1M1285.5 645.9V661.1" stroke="#CC79A7" stroke-width="2.8" fill="none"/><path d="M1114.2 661.8H1177.2" stroke="#CC79A7" stroke-width="3.75" fill="none"/><path d="M1114.2 654.2V669.4M1177.2 654.2V669.4" stroke="#CC79A7" stroke-width="2.8" fill="none"/><path d="M1117.6 719H1156.5" stroke="#CC79A7" stroke-width="3.75" fill="none"/><path d="M1117.6 711.4V726.6M1156.5 711.4V726.6" stroke="#CC79A7" stroke-width="2.8" fill="none"/><path d="M1108 729.8H1347.2" stroke="#CC79A7" stroke-width="3.75" fill="none"/><path d="M1108 722.2V737.4M1347.2 722.2V737.4" stroke="#CC79A7" stroke-width="2.8" fill="none"/><path d="M1145.8 767.6H1334.5" stroke="#CC79A7" stroke-width="3.75" fill="none"/><path d="M1145.8 760V775.2M1334.5 760V775.2" stroke="#CC79A7" stroke-width="2.8" fill="none"/><path d="M1113.7 810.6H1147.7" stroke="#CC79A7" stroke-width="3.75" fill="none"/><path d="M1113.7 803V818.2M1147.7 803V818.2" stroke="#CC79A7" stroke-width="2.8" fill="none"/><path d="M1108 895.7H1148.9" stroke="#CC79A7" stroke-width="3.75" fill="none"/><path d="M1108 888.1V903.3M1148.9 888.1V903.3" stroke="#CC79A7" stroke-width="2.8" fill="none"/><path d="M1115.3 903.3H1145.6" stroke="#CC79A7" stroke-width="3.75" fill="none"/><path d="M1115.3 895.7V910.9M1145.6 895.7V910.9" stroke="#CC79A7" stroke-width="2.8" fill="none"/><path d="M1110.6 937.6H1143.5" stroke="#CC79A7" stroke-width="3.75" fill="none"/><path d="M1110.6 930V945.2M1143.5 930V945.2" stroke="#CC79A7" stroke-width="2.8" fill="none"/><path d="M1112 941.1H1137" stroke="#CC79A7" stroke-width="3.75" fill="none"/><path d="M1112 933.5V948.7M1137 933.5V948.7" stroke="#CC79A7" stroke-width="2.8" fill="none"/><path d="M1139.5 941.4H1235.1" stroke="#CC79A7" stroke-width="3.75" fill="none"/><path d="M1139.5 933.8V949M1235.1 933.8V949" stroke="#CC79A7" stroke-width="2.8" fill="none"/><path d="M1135.5 972.9H1294.8" stroke="#CC79A7" stroke-width="3.75" fill="none"/><path d="M1135.5 965.3V980.5M1294.8 965.3V980.5" stroke="#CC79A7" stroke-width="2.8" fill="none"/><path d="M1108 999.2H1170.9" stroke="#CC79A7" stroke-width="3.75" fill="none"/><path d="M1108 991.6V1006.8M1170.9 991.6V1006.8" stroke="#CC79A7" stroke-width="2.8" fill="none"/></g>
<g><path d="M1108.3 -2152.5H1454.3" stroke="#56B4E9" stroke-width="3.75" fill="none"/><path d="M1108.3 -2160.1V-2144.9M1454.3 -2160.1V-2144.9" stroke="#56B4E9" stroke-width="2.8" fill="none"/><path d="M1296.7 -1462.01H1485.5" stroke="#56B4E9" stroke-width="3.75" fill="none"/><path d="M1296.7 -1469.61V-1454.41M1485.5 -1469.61V-1454.41" stroke="#56B4E9" stroke-width="2.8" fill="none"/></g>
<g><circle cx="1125.9" cy="282.93" r="8.8" fill="#E69F00"/><circle cx="1188.26" cy="319.74" r="8.8" fill="#E69F00"/><circle cx="1250.48" cy="334.04" r="8.8" fill="#E69F00"/><circle cx="1402.5" cy="263.88" r="8.8" fill="#E69F00"/><circle cx="1344.03" cy="390.96" r="8.8" fill="#E69F00"/><circle cx="1339.27" cy="513.67" r="8.8" fill="#E69F00"/><circle cx="1168.32" cy="469.24" r="8.8" fill="#E69F00"/><circle cx="1203.36" cy="586.05" r="8.8" fill="#E69F00"/><circle cx="1192.86" cy="614.41" r="8.8" fill="#E69F00"/><circle cx="1153.3" cy="573" r="8.8" fill="#E69F00"/><circle cx="1327.77" cy="615.28" r="8.8" fill="#E69F00"/><circle cx="1367.29" cy="628.81" r="8.8" fill="#E69F00"/><circle cx="1216.8" cy="645.9" r="8.8" fill="#E69F00"/><circle cx="1142" cy="652.7" r="8.8" fill="#E69F00"/><circle cx="1124" cy="689.7" r="8.8" fill="#E69F00"/><circle cx="1140.2" cy="692.6" r="8.8" fill="#E69F00"/><circle cx="1152.5" cy="700.6" r="8.8" fill="#E69F00"/><circle cx="1162.2" cy="715.4" r="8.8" fill="#E69F00"/><circle cx="1159.3" cy="763.7" r="8.8" fill="#E69F00"/><circle cx="1339.9" cy="688.3" r="8.8" fill="#E69F00"/><circle cx="1177" cy="788.8" r="8.8" fill="#E69F00"/><circle cx="1268.1" cy="798.3" r="8.8" fill="#E69F00"/><circle cx="1324.4" cy="810" r="8.8" fill="#E69F00"/><circle cx="1293.3" cy="828.8" r="8.8" fill="#E69F00"/><circle cx="1334.5" cy="838" r="8.8" fill="#E69F00"/><circle cx="1396.8" cy="781.9" r="8.8" fill="#E69F00"/><circle cx="1429.1" cy="834.8" r="8.8" fill="#E69F00"/><circle cx="1186.7" cy="842.7" r="8.8" fill="#E69F00"/><circle cx="1259.8" cy="848.8" r="8.8" fill="#E69F00"/><circle cx="1154.3" cy="880.6" r="8.8" fill="#E69F00"/><circle cx="1194.7" cy="986" r="8.8" fill="#E69F00"/><circle cx="1124.3" cy="1023.9" r="8.8" fill="#E69F00"/><circle cx="1202.7" cy="1054.4" r="8.8" fill="#E69F00"/><circle cx="1340.2" cy="1071.2" r="8.8" fill="#E69F00"/><circle cx="1457.3" cy="1016.1" r="8.8" fill="#E69F00"/><circle cx="1467" cy="1069.1" r="8.8" fill="#E69F00"/><circle cx="1656" cy="587.8" r="8.8" fill="#E69F00"/><circle cx="1737.1" cy="822.4" r="8.8" fill="#E69F00"/><circle cx="1737.1" cy="861.4" r="8.8" fill="#E69F00"/><circle cx="1737.1" cy="869.5" r="8.8" fill="#E69F00"/><circle cx="1117.9" cy="-856.47" r="8.8" fill="#E69F00"/><circle cx="1485.4" cy="1589.62" r="8.8" fill="#E69F00"/></g>
<g><circle cx="1238.79" cy="115.49" r="8.8" fill="#009E73"/><circle cx="1312.99" cy="76.51" r="8.8" fill="#009E73"/><circle cx="1182.63" cy="300.83" r="8.8" fill="#009E73"/><circle cx="1139.32" cy="375.8" r="8.8" fill="#009E73"/><circle cx="1165.03" cy="607.16" r="8.8" fill="#009E73"/><circle cx="1123.1" cy="574.8" r="8.8" fill="#009E73"/><circle cx="1144" cy="571.9" r="8.8" fill="#009E73"/><circle cx="1347" cy="603.9" r="8.8" fill="#009E73"/><circle cx="1125.8" cy="658.9" r="8.8" fill="#009E73"/><circle cx="1137.7" cy="702" r="8.8" fill="#009E73"/><circle cx="1156.5" cy="712.5" r="8.8" fill="#009E73"/><circle cx="1114.2" cy="713.2" r="8.8" fill="#009E73"/><circle cx="1345.6" cy="677.7" r="8.8" fill="#009E73"/><circle cx="1315.7" cy="737.7" r="8.8" fill="#009E73"/><circle cx="1295.1" cy="760.2" r="8.8" fill="#009E73"/><circle cx="1272.7" cy="768.7" r="8.8" fill="#009E73"/><circle cx="1385.4" cy="713" r="8.8" fill="#009E73"/><circle cx="1433.2" cy="741" r="8.8" fill="#009E73"/><circle cx="1138.8" cy="737.7" r="8.8" fill="#009E73"/><circle cx="1118.2" cy="740.3" r="8.8" fill="#009E73"/><circle cx="1127.6" cy="783.9" r="8.8" fill="#009E73"/><circle cx="1133.7" cy="791.8" r="8.8" fill="#009E73"/><circle cx="1139.9" cy="800.1" r="8.8" fill="#009E73"/><circle cx="1217.5" cy="781.3" r="8.8" fill="#009E73"/><circle cx="1181.7" cy="818.9" r="8.8" fill="#009E73"/><circle cx="1271.7" cy="795.1" r="8.8" fill="#009E73"/><circle cx="1146.3" cy="840.2" r="8.8" fill="#009E73"/><circle cx="1160.6" cy="838.5" r="8.8" fill="#009E73"/><circle cx="1139.4" cy="850.3" r="8.8" fill="#009E73"/><circle cx="1153.4" cy="852.9" r="8.8" fill="#009E73"/><circle cx="1185.3" cy="854.6" r="8.8" fill="#009E73"/><circle cx="1246.4" cy="851.3" r="8.8" fill="#009E73"/><circle cx="1134.4" cy="870.8" r="8.8" fill="#009E73"/><circle cx="1164.4" cy="888.5" r="8.8" fill="#009E73"/><circle cx="1262.1" cy="887.4" r="8.8" fill="#009E73"/><circle cx="1288.3" cy="915" r="8.8" fill="#009E73"/><circle cx="1352.2" cy="887.4" r="8.8" fill="#009E73"/><circle cx="1117.8" cy="927.1" r="8.8" fill="#009E73"/><circle cx="1122.5" cy="949.1" r="8.8" fill="#009E73"/><circle cx="1183.9" cy="949.8" r="8.8" fill="#009E73"/><circle cx="1202.7" cy="958.5" r="8.8" fill="#009E73"/><circle cx="1128.3" cy="970" r="8.8" fill="#009E73"/><circle cx="1114.6" cy="972.9" r="8.8" fill="#009E73"/><circle cx="1119.3" cy="986.8" r="8.8" fill="#009E73"/><circle cx="1283.9" cy="972.9" r="8.8" fill="#009E73"/><circle cx="1298" cy="966.4" r="8.8" fill="#009E73"/><circle cx="1356.2" cy="932.1" r="8.8" fill="#009E73"/><circle cx="1381.8" cy="932.1" r="8.8" fill="#009E73"/><circle cx="1441.4" cy="957" r="8.8" fill="#009E73"/><circle cx="1174.1" cy="994.1" r="8.8" fill="#009E73"/><circle cx="1189.7" cy="1047.2" r="8.8" fill="#009E73"/><circle cx="1270.4" cy="1003.3" r="8.8" fill="#009E73"/><circle cx="1242.1" cy="1112.9" r="8.8" fill="#009E73"/><circle cx="1620.7" cy="554.8" r="8.8" fill="#009E73"/><circle cx="1536.9" cy="888.9" r="8.8" fill="#009E73"/><circle cx="1504" cy="964.5" r="8.8" fill="#009E73"/><circle cx="1147.7" cy="-326.91" r="8.8" fill="#009E73"/><circle cx="1179.9" cy="-146.9" r="8.8" fill="#009E73"/><circle cx="1230.9" cy="-102.36" r="8.8" fill="#009E73"/><circle cx="1240.6" cy="1121.81" r="8.8" fill="#009E73"/><circle cx="1127" cy="1179.82" r="8.8" fill="#009E73"/><circle cx="1259" cy="1217.62" r="8.8" fill="#009E73"/><circle cx="1300.8" cy="1223.98" r="8.8" fill="#009E73"/><circle cx="1301.2" cy="1250.93" r="8.8" fill="#009E73"/><circle cx="1160.9" cy="1258.04" r="8.8" fill="#009E73"/><circle cx="1322.1" cy="1287.23" r="8.8" fill="#009E73"/><circle cx="1385.1" cy="1287.23" r="8.8" fill="#009E73"/><circle cx="1278.1" cy="1323.91" r="8.8" fill="#009E73"/><circle cx="1171" cy="1348.23" r="8.8" fill="#009E73"/><circle cx="1271.3" cy="1407.74" r="8.8" fill="#009E73"/><circle cx="1196.5" cy="1430.57" r="8.8" fill="#009E73"/><circle cx="1202.7" cy="1539.1" r="8.8" fill="#009E73"/><circle cx="1322.1" cy="1537.23" r="8.8" fill="#009E73"/><circle cx="1127" cy="1589.62" r="8.8" fill="#009E73"/><circle cx="1158.7" cy="1589.62" r="8.8" fill="#009E73"/><circle cx="1266.1" cy="1589.62" r="8.8" fill="#009E73"/><circle cx="1303.1" cy="1589.62" r="8.8" fill="#009E73"/><circle cx="1400.2" cy="1589.62" r="8.8" fill="#009E73"/><circle cx="1548.5" cy="1589.62" r="8.8" fill="#009E73"/><circle cx="1508.9" cy="1589.62" r="8.8" fill="#009E73"/><circle cx="1551.7" cy="1336.26" r="8.8" fill="#009E73"/><circle cx="1586.4" cy="1338.5" r="8.8" fill="#009E73"/><circle cx="1423.3" cy="1381.92" r="8.8" fill="#009E73"/><circle cx="1435.3" cy="1426.45" r="8.8" fill="#009E73"/></g>
<g><circle cx="1372.18" cy="105.39" r="8.8" fill="#0072B2"/><circle cx="1145.82" cy="364.25" r="8.8" fill="#0072B2"/><circle cx="1268.53" cy="395.29" r="8.8" fill="#0072B2"/><circle cx="1145.51" cy="411.33" r="8.8" fill="#0072B2"/><circle cx="1277.85" cy="551.07" r="8.8" fill="#0072B2"/><circle cx="1193.94" cy="627.73" r="8.8" fill="#0072B2"/><circle cx="1422.72" cy="594.17" r="8.8" fill="#0072B2"/><circle cx="1202.5" cy="691.9" r="8.8" fill="#0072B2"/><circle cx="1120.4" cy="705.3" r="8.8" fill="#0072B2"/><circle cx="1152.1" cy="733.8" r="8.8" fill="#0072B2"/><circle cx="1344" cy="710.8" r="8.8" fill="#0072B2"/><circle cx="1362.7" cy="721.5" r="8.8" fill="#0072B2"/><circle cx="1259" cy="754.3" r="8.8" fill="#0072B2"/><circle cx="1127.2" cy="826.1" r="8.8" fill="#0072B2"/><circle cx="1394.9" cy="860" r="8.8" fill="#0072B2"/><circle cx="1372.3" cy="920.9" r="8.8" fill="#0072B2"/><circle cx="1240.3" cy="1000.1" r="8.8" fill="#0072B2"/><circle cx="1342" cy="1013.1" r="8.8" fill="#0072B2"/><circle cx="1572.2" cy="812.1" r="8.8" fill="#0072B2"/><circle cx="1344.8" cy="714" r="8.8" fill="#0072B2"/></g>
<g><circle cx="1157.66" cy="275.28" r="8.8" fill="#CC79A7"/><circle cx="1139.59" cy="407.79" r="8.8" fill="#CC79A7"/><circle cx="1162.9" cy="416.09" r="8.8" fill="#CC79A7"/><circle cx="1167.6" cy="424.03" r="8.8" fill="#CC79A7"/><circle cx="1116.42" cy="489.67" r="8.8" fill="#CC79A7"/><circle cx="1114.98" cy="500.06" r="8.8" fill="#CC79A7"/><circle cx="1159.44" cy="493.2" r="8.8" fill="#CC79A7"/><circle cx="1192.32" cy="537.65" r="8.8" fill="#CC79A7"/><circle cx="1163.95" cy="549.02" r="8.8" fill="#CC79A7"/><circle cx="1130" cy="579.9" r="8.8" fill="#CC79A7"/><circle cx="1115.5" cy="588.4" r="8.8" fill="#CC79A7"/><circle cx="1259" cy="640.8" r="8.8" fill="#CC79A7"/><circle cx="1260.1" cy="653.5" r="8.8" fill="#CC79A7"/><circle cx="1145.6" cy="661.8" r="8.8" fill="#CC79A7"/><circle cx="1137" cy="719" r="8.8" fill="#CC79A7"/><circle cx="1209.2" cy="729.8" r="8.8" fill="#CC79A7"/><circle cx="1227.3" cy="767.6" r="8.8" fill="#CC79A7"/><circle cx="1127.2" cy="810.6" r="8.8" fill="#CC79A7"/><circle cx="1120.4" cy="895.7" r="8.8" fill="#CC79A7"/><circle cx="1127.2" cy="903.3" r="8.8" fill="#CC79A7"/><circle cx="1121.1" cy="937.6" r="8.8" fill="#CC79A7"/><circle cx="1125.4" cy="941.1" r="8.8" fill="#CC79A7"/><circle cx="1160.8" cy="941.4" r="8.8" fill="#CC79A7"/><circle cx="1206.6" cy="972.9" r="8.8" fill="#CC79A7"/><circle cx="1108" cy="999.2" r="8.8" fill="#CC79A7"/></g>
<g><path d="M1297.4 -2152.5L1309.6 -2165L1321.8 -2152.5L1309.6 -2140Z" fill="#56B4E9"/><path d="M1391.5 -1462.01L1403.7 -1474.51L1415.9 -1462.01L1403.7 -1449.51Z" fill="#56B4E9"/></g>
</g>
<path d="M1108.1 1117.5v9M1265.35 1117.5v9M1422.6 1117.5v9M1579.85 1117.5v9M1737.1 1117.5v9M1045.2 1065.3h-9M1045.2 934.31h-9M1045.2 803.32h-9M1045.2 672.34h-9M1045.2 541.35h-9M1045.2 410.36h-9M1045.2 279.38h-9M1045.2 148.39h-9M1045.2 17.4h-9" stroke="#000" stroke-width="2" fill="none"/>
<rect x="1045.2" y="17.4" width="755" height="1100.1" fill="none" stroke="#000" stroke-width="2.2"/>
<g font-size="50" fill="#000">
<text x="1108.1" y="1172.2" text-anchor="middle">0.00</text>
<text x="1265.35" y="1172.2" text-anchor="middle">0.25</text>
<text x="1422.6" y="1172.2" text-anchor="middle">0.50</text>
<text x="1579.85" y="1172.2" text-anchor="middle">0.75</text>
<text x="1737.1" y="1172.2" text-anchor="middle">1.00</text>
<text x="1028" y="1084.7" text-anchor="end">1.00</text>
<text x="1028" y="953.71" text-anchor="end">1.25</text>
<text x="1028" y="822.72" text-anchor="end">1.50</text>
<text x="1028" y="691.74" text-anchor="end">1.75</text>
<text x="1028" y="560.75" text-anchor="end">2.00</text>
<text x="1028" y="429.76" text-anchor="end">2.25</text>
<text x="1028" y="298.77" text-anchor="end">2.50</text>
<text x="1028" y="167.79" text-anchor="end">2.75</text>
<text x="1028" y="36.8" text-anchor="end">3.00</text>
</g>
<rect x="1494.2" y="29.9" width="293.8" height="298.3" rx="5" ry="5" fill="#fff" fill-opacity="0.8" stroke="#c8c8c8" stroke-width="2.7"/>
<g font-size="25" fill="#000">
<path d="M1516.7 50.2L1528.9 37.7L1541.1 50.2L1528.9 62.7Z" fill="#56B4E9"/>
<path d="M1516.4 42.6V57.8M1541.4 42.6V57.8" stroke="#56B4E9" stroke-width="2.8" fill="none"/>
<path d="M1516.4 50.2H1541.4" stroke="#56B4E9" stroke-width="3.75" fill="none"/>
<text x="1573.9" y="58.7">AF Lep</text>
<circle cx="1528.9" cy="88.63" r="8.9" fill="#F0E442"/>
<text x="1573.9" y="95.13">Assumed</text>
<circle cx="1528.9" cy="125.06" r="8.9" fill="#D55E00"/>
<text x="1573.9" y="131.56">Measured</text>
<circle cx="1528.9" cy="159.49" r="8.8" fill="#CC79A7"/>
<path d="M1516.4 151.89V167.09M1541.4 151.89V167.09" stroke="#CC79A7" stroke-width="2.8" fill="none"/>
<path d="M1516.4 159.49H1541.4" stroke="#CC79A7" stroke-width="3.75" fill="none"/>
<text x="1573.9" y="167.99">Measured Error</text>
<circle cx="1528.9" cy="195.92" r="8.8" fill="#0072B2"/>
<path d="M1516.4 188.32V203.52M1541.4 188.32V203.52" stroke="#0072B2" stroke-width="2.8" fill="none"/>
<path d="M1516.4 195.92H1541.4" stroke="#0072B2" stroke-width="3.75" fill="none"/>
<text x="1573.9" y="204.42">Measured Upper</text>
<circle cx="1528.9" cy="234.35" r="8.9" fill="#000000"/>
<text x="1573.9" y="240.85">Non-Zero</text>
<circle cx="1528.9" cy="268.78" r="8.8" fill="#009E73"/>
<path d="M1516.4 261.18V276.38M1541.4 261.18V276.38" stroke="#009E73" stroke-width="2.8" fill="none"/>
<path d="M1516.4 268.78H1541.4" stroke="#009E73" stroke-width="3.75" fill="none"/>
<text x="1573.9" y="277.28">Non-Zero Error</text>
<circle cx="1528.9" cy="305.21" r="8.8" fill="#E69F00"/>
<path d="M1516.4 297.61V312.81M1541.4 297.61V312.81" stroke="#E69F00" stroke-width="2.8" fill="none"/>
<path d="M1516.4 305.21H1541.4" stroke="#E69F00" stroke-width="3.75" fill="none"/>
<text x="1573.9" y="313.71">Non-Zero Upper</text>
</g>
<g font-size="62.5" fill="#000">
<text x="517.5" y="1240.1" text-anchor="middle">Eccentricity</text>
<text x="1423.5" y="1240.1" text-anchor="middle">Eccentricity</text>
<text transform="translate(47.5 557.8) rotate(-90)" text-anchor="middle">Distance from HZ (au)</text>
</g>
</svg></body></html>
